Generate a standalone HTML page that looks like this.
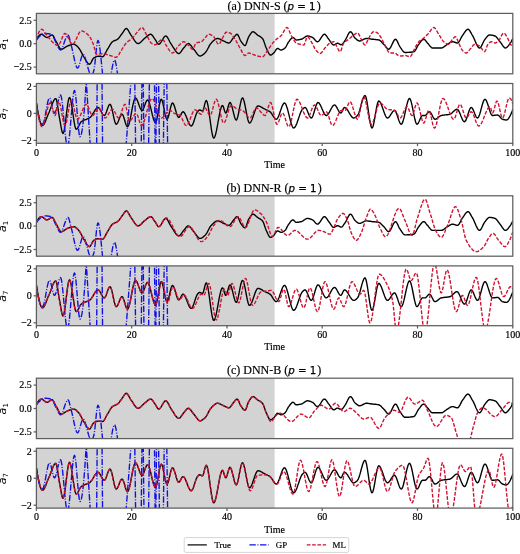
<!DOCTYPE html>
<html lang="en"><head><meta charset="utf-8"><title>DNN predictions</title>
<style>html,body{margin:0;padding:0;background:#fff}body{width:520px;height:554px;overflow:hidden}svg{display:block}</style>
</head><body>
<svg width="520" height="554" viewBox="0 0 520 554">
<rect x="0" y="0" width="520" height="554" fill="#fff"/>
<defs>
<clipPath id="c01"><rect x="36.4" y="13.4" width="476.4" height="60.4"/></clipPath>
<clipPath id="c07"><rect x="36.4" y="83.5" width="476.4" height="59.8"/></clipPath>
<clipPath id="c11"><rect x="36.4" y="195.8" width="476.4" height="60.4"/></clipPath>
<clipPath id="c17"><rect x="36.4" y="265.9" width="476.4" height="59.8"/></clipPath>
<clipPath id="c21"><rect x="36.4" y="378.2" width="476.4" height="60.4"/></clipPath>
<clipPath id="c27"><rect x="36.4" y="448.3" width="476.4" height="59.8"/></clipPath>
<path id="true_a1" d="M36.4 40.0 L36.9 39.0 L37.4 38.1 L37.9 37.3 L38.4 36.5 L38.9 35.8 L39.4 35.3 L39.9 34.8 L40.4 34.5 L40.9 34.3 L41.4 34.3 L41.9 34.4 L42.4 34.6 L42.9 34.9 L43.4 35.3 L43.9 35.7 L44.4 36.1 L44.9 36.5 L45.4 36.9 L45.9 37.2 L46.4 37.4 L46.9 37.5 L47.4 37.5 L47.9 37.3 L48.4 37.0 L48.9 36.7 L49.4 36.3 L49.9 36.0 L50.4 35.6 L50.9 35.3 L51.4 35.1 L51.9 35.0 L52.4 35.1 L52.9 35.5 L53.4 36.2 L53.9 37.1 L54.4 38.1 L54.9 39.2 L55.4 40.2 L55.9 41.2 L56.4 42.0 L56.9 42.9 L57.4 43.8 L57.9 44.8 L58.4 45.8 L58.9 46.7 L59.4 47.6 L59.9 48.3 L60.4 48.9 L60.9 49.2 L61.4 49.2 L61.9 49.2 L62.4 49.0 L62.9 48.8 L63.4 48.5 L63.9 48.2 L64.4 47.9 L64.9 47.5 L65.4 47.2 L65.9 46.9 L66.4 46.5 L66.9 46.3 L67.4 46.0 L67.9 45.9 L68.4 45.7 L68.9 45.5 L69.4 45.3 L69.9 45.1 L70.4 44.9 L70.9 44.8 L71.4 44.6 L71.9 44.5 L72.4 44.4 L72.9 44.3 L73.4 44.3 L73.9 44.3 L74.4 44.3 L74.9 44.5 L75.4 44.8 L75.9 45.2 L76.4 45.6 L76.9 46.1 L77.4 46.6 L77.9 47.1 L78.4 47.6 L78.9 48.2 L79.4 48.8 L79.9 49.6 L80.4 50.5 L80.9 51.4 L81.4 52.4 L81.9 53.4 L82.4 54.4 L82.9 55.3 L83.4 56.2 L83.9 57.0 L84.4 57.8 L84.9 58.6 L85.4 59.5 L85.9 60.4 L86.4 61.2 L86.9 62.0 L87.4 62.7 L87.9 63.3 L88.4 63.8 L88.9 64.1 L89.4 64.2 L89.9 64.1 L90.4 63.6 L90.9 62.8 L91.4 61.9 L91.9 60.9 L92.4 59.9 L92.9 59.0 L93.4 58.3 L93.9 57.9 L94.4 57.6 L94.9 57.4 L95.4 57.1 L95.9 56.9 L96.4 56.7 L96.9 56.5 L97.4 56.4 L97.9 56.3 L98.4 56.3 L98.9 56.3 L99.4 56.3 L99.9 56.4 L100.4 56.5 L100.9 56.6 L101.4 56.6 L101.9 56.7 L102.4 56.7 L102.9 56.7 L103.4 56.3 L103.9 55.7 L104.4 55.0 L104.9 54.1 L105.4 53.2 L105.9 52.2 L106.4 51.2 L106.9 50.2 L107.4 49.4 L107.9 48.6 L108.4 47.8 L108.9 46.9 L109.4 46.1 L109.9 45.2 L110.4 44.4 L110.9 43.6 L111.4 42.9 L111.9 42.3 L112.4 41.8 L112.9 41.5 L113.4 41.2 L113.9 40.9 L114.4 40.7 L114.9 40.5 L115.4 40.3 L115.9 40.1 L116.4 39.9 L116.9 39.6 L117.4 39.3 L117.9 38.9 L118.4 38.4 L118.9 37.9 L119.4 37.3 L119.9 36.6 L120.4 35.9 L120.9 35.2 L121.4 34.5 L121.9 33.8 L122.4 33.1 L122.9 32.5 L123.4 31.7 L123.9 30.9 L124.4 30.1 L124.9 29.4 L125.4 28.9 L125.9 28.6 L126.4 28.5 L126.9 28.7 L127.4 29.2 L127.9 29.8 L128.4 30.6 L128.9 31.5 L129.4 32.4 L129.9 33.3 L130.4 34.2 L130.9 35.0 L131.4 35.7 L131.9 36.4 L132.4 37.1 L132.9 37.9 L133.4 38.7 L133.9 39.5 L134.4 40.3 L134.9 41.0 L135.4 41.6 L135.9 42.2 L136.4 42.7 L136.9 43.1 L137.4 43.4 L137.9 43.5 L138.4 43.5 L138.9 43.3 L139.4 43.1 L139.9 42.8 L140.4 42.4 L140.9 42.0 L141.4 41.5 L141.9 41.0 L142.4 40.4 L142.9 39.9 L143.4 39.4 L143.9 38.9 L144.4 38.5 L144.9 38.1 L145.4 37.7 L145.9 37.3 L146.4 36.9 L146.9 36.4 L147.4 36.0 L147.9 35.6 L148.4 35.2 L148.9 34.9 L149.4 34.6 L149.9 34.4 L150.4 34.3 L150.9 34.3 L151.4 34.5 L151.9 34.9 L152.4 35.4 L152.9 36.1 L153.4 36.9 L153.9 37.7 L154.4 38.4 L154.9 39.1 L155.4 39.8 L155.9 40.6 L156.4 41.5 L156.9 42.4 L157.4 43.2 L157.9 43.8 L158.4 44.2 L158.9 44.2 L159.4 44.0 L159.9 43.7 L160.4 43.1 L160.9 42.4 L161.4 41.6 L161.9 40.7 L162.4 39.9 L162.9 39.0 L163.4 38.2 L163.9 37.4 L164.4 36.8 L164.9 36.3 L165.4 36.1 L165.9 36.0 L166.4 36.2 L166.9 36.7 L167.4 37.3 L167.9 38.1 L168.4 39.0 L168.9 40.0 L169.4 41.0 L169.9 42.0 L170.4 42.9 L170.9 43.7 L171.4 44.5 L171.9 45.2 L172.4 46.0 L172.9 46.8 L173.4 47.6 L173.9 48.4 L174.4 49.2 L174.9 50.0 L175.4 50.7 L175.9 51.4 L176.4 52.0 L176.9 52.6 L177.4 53.0 L177.9 53.3 L178.4 53.5 L178.9 53.5 L179.4 53.3 L179.9 53.0 L180.4 52.5 L180.9 51.9 L181.4 51.2 L181.9 50.5 L182.4 49.7 L182.9 49.0 L183.4 48.4 L183.9 47.8 L184.4 47.2 L184.9 46.6 L185.4 45.9 L185.9 45.3 L186.4 44.7 L186.9 44.2 L187.4 43.8 L187.9 43.6 L188.4 43.5 L188.9 43.7 L189.4 43.9 L189.9 44.4 L190.4 44.9 L190.9 45.5 L191.4 46.2 L191.9 46.9 L192.4 47.6 L192.9 48.2 L193.4 48.9 L193.9 49.4 L194.4 50.0 L194.9 50.7 L195.4 51.4 L195.9 52.1 L196.4 52.8 L196.9 53.5 L197.4 54.1 L197.9 54.7 L198.4 55.2 L198.9 55.6 L199.4 55.9 L199.9 56.0 L200.4 56.0 L200.9 55.9 L201.4 55.7 L201.9 55.4 L202.4 55.1 L202.9 54.7 L203.4 54.4 L203.9 53.9 L204.4 53.5 L204.9 53.1 L205.4 52.6 L205.9 52.0 L206.4 51.2 L206.9 50.4 L207.4 49.5 L207.9 48.5 L208.4 47.6 L208.9 46.6 L209.4 45.7 L209.9 44.8 L210.4 44.0 L210.9 43.4 L211.4 42.9 L211.9 42.3 L212.4 41.8 L212.9 41.3 L213.4 40.8 L213.9 40.4 L214.4 40.0 L214.9 39.6 L215.4 39.2 L215.9 38.9 L216.4 38.7 L216.9 38.6 L217.4 38.5 L217.9 38.5 L218.4 38.6 L218.9 38.7 L219.4 38.9 L219.9 39.1 L220.4 39.3 L220.9 39.6 L221.4 39.8 L221.9 40.1 L222.4 40.4 L222.9 40.6 L223.4 40.9 L223.9 41.1 L224.4 41.3 L224.9 41.5 L225.4 41.8 L225.9 42.1 L226.4 42.3 L226.9 42.6 L227.4 42.7 L227.9 42.9 L228.4 43.0 L228.9 43.0 L229.4 42.8 L229.9 42.5 L230.4 42.0 L230.9 41.4 L231.4 40.7 L231.9 40.0 L232.4 39.2 L232.9 38.5 L233.4 37.9 L233.9 37.3 L234.4 36.7 L234.9 36.1 L235.4 35.4 L235.9 34.9 L236.4 34.4 L236.9 34.3 L237.4 34.4 L237.9 34.9 L238.4 35.8 L238.9 36.8 L239.4 38.0 L239.9 39.2 L240.4 40.3 L240.9 41.2 L241.4 41.9 L241.9 42.6 L242.4 43.3 L242.9 43.9 L243.4 44.5 L243.9 45.0 L244.4 45.3 L244.9 45.5 L245.4 45.3 L245.9 44.5 L246.4 43.3 L246.9 41.8 L247.4 40.2 L247.9 38.7 L248.4 37.4 L248.9 36.5 L249.4 35.7 L249.9 34.9 L250.4 34.1 L250.9 33.4 L251.4 32.8 L251.9 32.2 L252.4 31.9 L252.9 31.8 L253.4 31.8 L253.9 32.0 L254.4 32.3 L254.9 32.7 L255.4 33.1 L255.9 33.6 L256.4 34.1 L256.9 34.5 L257.4 34.9 L257.9 35.3 L258.4 35.6 L258.9 35.9 L259.4 36.1 L259.9 36.4 L260.4 36.7 L260.9 37.1 L261.4 37.4 L261.9 37.9 L262.4 38.4 L262.9 39.1 L263.4 40.1 L263.9 41.4 L264.4 42.9 L264.9 44.4 L265.4 45.9 L265.9 47.2 L266.4 48.3 L266.9 49.4 L267.4 50.5 L267.9 51.6 L268.4 52.6 L268.9 53.5 L269.4 54.3 L269.9 54.8 L270.4 55.0 L270.9 55.0 L271.4 54.8 L271.9 54.5 L272.4 54.1 L272.9 53.7 L273.4 53.3 L273.9 52.9 L274.4 52.3 L274.9 51.5 L275.4 50.7 L275.9 49.9 L276.4 49.3 L276.9 48.7 L277.4 48.5 L277.9 48.5 L278.4 48.7 L278.9 49.0 L279.4 49.3 L279.9 49.6 L280.4 49.8 L280.9 50.0 L281.4 50.0 L281.9 49.9 L282.4 49.7 L282.9 49.5 L283.4 49.2 L283.9 48.9 L284.4 48.5 L284.9 48.1 L285.4 47.6 L285.9 46.9 L286.4 46.0 L286.9 45.0 L287.4 44.0 L287.9 43.1 L288.4 42.2 L288.9 41.6 L289.4 40.9 L289.9 40.2 L290.4 39.5 L290.9 38.9 L291.4 38.4 L291.9 37.9 L292.4 37.6 L292.9 37.5 L293.4 37.6 L293.9 38.0 L294.4 38.5 L294.9 39.1 L295.4 39.6 L295.9 39.9 L296.4 40.0 L296.9 40.0 L297.4 39.9 L297.9 39.9 L298.4 39.8 L298.9 39.7 L299.4 39.6 L299.9 39.5 L300.4 39.4 L300.9 39.3 L301.4 39.2 L301.9 39.0 L302.4 38.8 L302.9 38.5 L303.4 38.1 L303.9 37.8 L304.4 37.4 L304.9 37.1 L305.4 36.7 L305.9 36.5 L306.4 36.2 L306.9 36.1 L307.4 36.0 L307.9 36.0 L308.4 36.1 L308.9 36.2 L309.4 36.3 L309.9 36.4 L310.4 36.6 L310.9 36.8 L311.4 37.0 L311.9 37.2 L312.4 37.5 L312.9 37.7 L313.4 38.1 L313.9 38.6 L314.4 39.2 L314.9 39.8 L315.4 40.4 L315.9 40.9 L316.4 41.3 L316.9 41.6 L317.4 41.7 L317.9 41.7 L318.4 41.4 L318.9 41.0 L319.4 40.4 L319.9 39.7 L320.4 39.0 L320.9 38.2 L321.4 37.4 L321.9 36.6 L322.4 35.9 L322.9 35.2 L323.4 34.7 L323.9 34.4 L324.4 34.3 L324.9 34.3 L325.4 34.7 L325.9 35.2 L326.4 35.8 L326.9 36.5 L327.4 37.3 L327.9 38.1 L328.4 38.8 L328.9 39.4 L329.4 40.1 L329.9 40.8 L330.4 41.6 L330.9 42.3 L331.4 43.1 L331.9 43.7 L332.4 44.3 L332.9 44.7 L333.4 44.9 L333.9 45.0 L334.4 44.9 L334.9 44.6 L335.4 44.3 L335.9 43.9 L336.4 43.6 L336.9 43.4 L337.4 43.3 L337.9 43.3 L338.4 43.5 L338.9 43.7 L339.4 44.0 L339.9 44.3 L340.4 44.6 L340.9 44.7 L341.4 44.7 L341.9 44.5 L342.4 44.1 L342.9 43.5 L343.4 42.8 L343.9 42.1 L344.4 41.3 L344.9 40.6 L345.4 39.9 L345.9 39.0 L346.4 38.1 L346.9 37.0 L347.4 36.0 L347.9 34.9 L348.4 34.0 L348.9 33.1 L349.4 32.4 L349.9 32.0 L350.4 31.8 L350.9 31.9 L351.4 32.3 L351.9 32.9 L352.4 33.7 L352.9 34.6 L353.4 35.6 L353.9 36.5 L354.4 37.3 L354.9 37.9 L355.4 38.4 L355.9 38.8 L356.4 39.3 L356.9 39.7 L357.4 40.1 L357.9 40.5 L358.4 40.7 L358.9 40.9 L359.4 41.0 L359.9 41.0 L360.4 40.9 L360.9 40.7 L361.4 40.5 L361.9 40.3 L362.4 40.0 L362.9 39.7 L363.4 39.5 L363.9 39.2 L364.4 39.0 L364.9 38.8 L365.4 38.6 L365.9 38.5 L366.4 38.5 L366.9 38.5 L367.4 38.5 L367.9 38.6 L368.4 38.6 L368.9 38.7 L369.4 38.8 L369.9 38.9 L370.4 38.9 L370.9 39.0 L371.4 39.1 L371.9 39.2 L372.4 39.2 L372.9 39.3 L373.4 39.3 L373.9 39.4 L374.4 39.4 L374.9 39.5 L375.4 39.5 L375.9 39.6 L376.4 39.6 L376.9 39.7 L377.4 39.8 L377.9 39.8 L378.4 39.9 L378.9 40.0 L379.4 40.2 L379.9 40.5 L380.4 40.9 L380.9 41.3 L381.4 41.8 L381.9 42.4 L382.4 42.9 L382.9 43.4 L383.4 43.9 L383.9 44.4 L384.4 44.9 L384.9 45.5 L385.4 46.2 L385.9 46.9 L386.4 47.5 L386.9 48.1 L387.4 48.6 L387.9 49.0 L388.4 49.2 L388.9 49.2 L389.4 49.0 L389.9 48.5 L390.4 47.7 L390.9 46.9 L391.4 45.8 L391.9 44.7 L392.4 43.6 L392.9 42.6 L393.4 41.6 L393.9 40.7 L394.4 40.0 L394.9 39.5 L395.4 39.3 L395.9 39.4 L396.4 39.8 L396.9 40.6 L397.4 41.5 L397.9 42.6 L398.4 43.7 L398.9 44.8 L399.4 45.8 L399.9 46.6 L400.4 47.3 L400.9 48.1 L401.4 48.8 L401.9 49.6 L402.4 50.3 L402.9 51.0 L403.4 51.6 L403.9 52.0 L404.4 52.4 L404.9 52.5 L405.4 52.5 L405.9 52.5 L406.4 52.5 L406.9 52.5 L407.4 52.4 L407.9 52.4 L408.4 52.4 L408.9 52.4 L409.4 52.3 L409.9 52.3 L410.4 52.2 L410.9 52.2 L411.4 52.1 L411.9 52.0 L412.4 52.0 L412.9 51.9 L413.4 51.8 L413.9 51.7 L414.4 51.4 L414.9 50.9 L415.4 50.1 L415.9 49.3 L416.4 48.4 L416.9 47.4 L417.4 46.4 L417.9 45.5 L418.4 44.7 L418.9 44.1 L419.4 43.4 L419.9 42.8 L420.4 42.1 L420.9 41.4 L421.4 40.8 L421.9 40.3 L422.4 39.8 L422.9 39.5 L423.4 39.3 L423.9 39.3 L424.4 39.5 L424.9 39.8 L425.4 40.4 L425.9 41.0 L426.4 41.7 L426.9 42.3 L427.4 42.9 L427.9 43.4 L428.4 44.0 L428.9 44.7 L429.4 45.3 L429.9 46.0 L430.4 46.6 L430.9 47.1 L431.4 47.6 L431.9 47.9 L432.4 48.0 L432.9 48.0 L433.4 48.0 L433.9 48.0 L434.4 48.0 L434.9 48.0 L435.4 48.0 L435.9 48.0 L436.4 48.0 L436.9 48.0 L437.4 48.0 L437.9 48.0 L438.4 48.0 L438.9 48.0 L439.4 48.0 L439.9 48.0 L440.4 48.0 L440.9 48.0 L441.4 48.0 L441.9 47.9 L442.4 47.8 L442.9 47.5 L443.4 47.2 L443.9 46.9 L444.4 46.5 L444.9 46.1 L445.4 45.7 L445.9 45.3 L446.4 45.0 L446.9 44.6 L447.4 44.3 L447.9 44.0 L448.4 43.7 L448.9 43.4 L449.4 43.0 L449.9 42.7 L450.4 42.4 L450.9 42.2 L451.4 42.0 L451.9 41.8 L452.4 41.8 L452.9 41.8 L453.4 41.9 L453.9 42.0 L454.4 42.2 L454.9 42.3 L455.4 42.5 L455.9 42.7 L456.4 42.8 L456.9 43.0 L457.4 43.0 L457.9 42.9 L458.4 42.5 L458.9 41.9 L459.4 41.2 L459.9 40.3 L460.4 39.3 L460.9 38.3 L461.4 37.3 L461.9 36.4 L462.4 35.6 L462.9 35.0 L463.4 34.2 L463.9 33.5 L464.4 32.7 L464.9 32.0 L465.4 31.3 L465.9 30.6 L466.4 30.1 L466.9 29.7 L467.4 29.4 L467.9 29.3 L468.4 29.3 L468.9 29.7 L469.4 30.2 L469.9 30.9 L470.4 31.8 L470.9 32.7 L471.4 33.6 L471.9 34.5 L472.4 35.3 L472.9 36.2 L473.4 37.1 L473.9 38.2 L474.4 39.3 L474.9 40.5 L475.4 41.7 L475.9 42.9 L476.4 44.0 L476.9 45.0 L477.4 46.0 L477.9 46.8 L478.4 47.4 L478.9 47.8 L479.4 48.0 L479.9 47.9 L480.4 47.5 L480.9 46.9 L481.4 46.1 L481.9 45.1 L482.4 44.1 L482.9 43.0 L483.4 42.0 L483.9 41.0 L484.4 40.1 L484.9 39.4 L485.4 38.8 L485.9 38.1 L486.4 37.5 L486.9 36.9 L487.4 36.3 L487.9 35.8 L488.4 35.4 L488.9 35.1 L489.4 35.0 L489.9 35.0 L490.4 35.0 L490.9 35.1 L491.4 35.1 L491.9 35.2 L492.4 35.3 L492.9 35.4 L493.4 35.5 L493.9 35.7 L494.4 35.8 L494.9 36.0 L495.4 36.2 L495.9 36.5 L496.4 37.0 L496.9 37.6 L497.4 38.2 L497.9 38.9 L498.4 39.6 L498.9 40.3 L499.4 41.0 L499.9 41.6 L500.4 42.2 L500.9 42.9 L501.4 43.6 L501.9 44.4 L502.4 45.2 L502.9 45.9 L503.4 46.5 L503.9 47.1 L504.4 47.6 L504.9 47.9 L505.4 48.0 L505.9 47.9 L506.4 47.7 L506.9 47.3 L507.4 46.8 L507.9 46.3 L508.4 45.7 L508.9 45.0 L509.4 44.4 L509.9 43.7 L510.4 43.0 L510.9 42.2 L511.4 41.3 L511.9 40.3 L512.4 39.3 L512.8 38.5"/>
<path id="true_a7" d="M36.4 103.0 L36.9 106.2 L37.4 109.2 L37.9 112.0 L38.4 114.5 L38.9 116.9 L39.4 119.0 L39.9 120.9 L40.4 122.4 L40.9 123.7 L41.4 124.6 L41.9 125.2 L42.4 125.5 L42.9 125.4 L43.4 125.0 L43.9 124.4 L44.4 123.6 L44.9 122.5 L45.4 121.4 L45.9 120.1 L46.4 118.8 L46.9 117.5 L47.4 116.2 L47.9 114.9 L48.4 113.7 L48.9 112.7 L49.4 111.6 L49.9 110.3 L50.4 109.0 L50.9 107.6 L51.4 106.3 L51.9 104.9 L52.4 103.6 L52.9 102.4 L53.4 101.2 L53.9 100.3 L54.4 99.5 L54.9 98.9 L55.4 98.6 L55.9 98.6 L56.4 99.6 L56.9 101.7 L57.4 104.6 L57.9 107.9 L58.4 111.3 L58.9 114.6 L59.4 117.5 L59.9 120.1 L60.4 122.9 L60.9 125.9 L61.4 128.6 L61.9 131.0 L62.4 132.7 L62.9 133.5 L63.4 133.1 L63.9 131.6 L64.4 129.2 L64.9 126.1 L65.4 122.4 L65.9 118.4 L66.4 114.3 L66.9 110.2 L67.4 106.3 L67.9 103.0 L68.4 100.2 L68.9 98.4 L69.4 97.5 L69.9 97.8 L70.4 99.0 L70.9 101.0 L71.4 103.6 L71.9 106.7 L72.4 110.0 L72.9 113.6 L73.4 117.0 L73.9 120.4 L74.4 123.4 L74.9 125.9 L75.4 127.9 L75.9 129.0 L76.4 129.2 L76.9 129.0 L77.4 128.4 L77.9 127.6 L78.4 126.7 L78.9 125.7 L79.4 124.6 L79.9 123.6 L80.4 122.8 L80.9 122.1 L81.4 121.6 L81.9 121.3 L82.4 121.0 L82.9 120.7 L83.4 120.4 L83.9 120.2 L84.4 120.0 L84.9 119.8 L85.4 119.6 L85.9 119.5 L86.4 119.3 L86.9 119.1 L87.4 118.9 L87.9 118.7 L88.4 118.4 L88.9 118.2 L89.4 117.9 L89.9 117.6 L90.4 117.2 L90.9 116.6 L91.4 116.0 L91.9 115.3 L92.4 114.5 L92.9 113.7 L93.4 112.8 L93.9 112.0 L94.4 111.1 L94.9 110.3 L95.4 109.6 L95.9 108.9 L96.4 108.4 L96.9 107.9 L97.4 107.6 L97.9 107.5 L98.4 107.6 L98.9 107.9 L99.4 108.5 L99.9 109.3 L100.4 110.1 L100.9 111.1 L101.4 112.0 L101.9 113.0 L102.4 113.8 L102.9 114.5 L103.4 115.1 L103.9 115.4 L104.4 115.5 L104.9 115.1 L105.4 114.3 L105.9 113.3 L106.4 112.0 L106.9 110.5 L107.4 109.1 L107.9 107.7 L108.4 106.4 L108.9 105.3 L109.4 104.6 L109.9 104.3 L110.4 104.5 L110.9 105.4 L111.4 106.8 L111.9 108.7 L112.4 110.8 L112.9 113.2 L113.4 115.6 L113.9 117.9 L114.4 120.0 L114.9 121.9 L115.4 123.2 L115.9 124.1 L116.4 124.2 L116.9 123.9 L117.4 123.2 L117.9 122.3 L118.4 121.1 L118.9 119.8 L119.4 118.5 L119.9 117.3 L120.4 116.1 L120.9 115.2 L121.4 114.6 L121.9 114.3 L122.4 114.4 L122.9 115.1 L123.4 116.3 L123.9 117.7 L124.4 119.3 L124.9 121.0 L125.4 122.7 L125.9 124.2 L126.4 125.5 L126.9 126.3 L127.4 126.7 L127.9 126.5 L128.4 125.7 L128.9 124.4 L129.4 122.7 L129.9 120.5 L130.4 118.2 L130.9 115.6 L131.4 112.9 L131.9 110.2 L132.4 107.6 L132.9 105.1 L133.4 102.9 L133.9 101.0 L134.4 99.5 L134.9 98.5 L135.4 98.0 L135.9 98.1 L136.4 98.7 L136.9 99.5 L137.4 100.6 L137.9 101.9 L138.4 103.2 L138.9 104.7 L139.4 106.1 L139.9 107.4 L140.4 108.6 L140.9 109.5 L141.4 110.2 L141.9 110.5 L142.4 110.3 L142.9 109.7 L143.4 108.8 L143.9 107.6 L144.4 106.2 L144.9 104.8 L145.4 103.4 L145.9 102.1 L146.4 101.1 L146.9 100.3 L147.4 100.0 L147.9 100.2 L148.4 100.8 L148.9 101.8 L149.4 103.2 L149.9 104.9 L150.4 106.7 L150.9 108.7 L151.4 110.8 L151.9 112.9 L152.4 115.0 L152.9 116.9 L153.4 118.7 L153.9 120.2 L154.4 121.3 L154.9 122.1 L155.4 122.5 L155.9 122.2 L156.4 121.0 L156.9 119.0 L157.4 116.6 L157.9 113.7 L158.4 110.7 L158.9 107.7 L159.4 104.9 L159.9 102.5 L160.4 100.6 L160.9 99.5 L161.4 99.3 L161.9 100.0 L162.4 101.3 L162.9 103.2 L163.4 105.5 L163.9 108.1 L164.4 110.7 L164.9 113.2 L165.4 115.5 L165.9 117.3 L166.4 118.6 L166.9 119.2 L167.4 119.0 L167.9 118.1 L168.4 116.6 L168.9 114.8 L169.4 112.7 L169.9 110.5 L170.4 108.3 L170.9 106.3 L171.4 104.7 L171.9 103.5 L172.4 103.0 L172.9 103.2 L173.4 103.8 L173.9 104.9 L174.4 106.2 L174.9 107.8 L175.4 109.5 L175.9 111.2 L176.4 112.9 L176.9 114.4 L177.4 115.8 L177.9 116.8 L178.4 117.4 L178.9 117.5 L179.4 117.1 L179.9 116.5 L180.4 115.6 L180.9 114.6 L181.4 113.6 L181.9 112.7 L182.4 112.1 L182.9 111.8 L183.4 111.8 L183.9 112.2 L184.4 112.8 L184.9 113.7 L185.4 114.7 L185.9 115.8 L186.4 117.0 L186.9 118.3 L187.4 119.6 L187.9 120.9 L188.4 122.1 L188.9 123.2 L189.4 124.2 L189.9 125.0 L190.4 125.6 L190.9 125.9 L191.4 126.0 L191.9 125.6 L192.4 124.9 L192.9 123.9 L193.4 122.7 L193.9 121.2 L194.4 119.7 L194.9 118.1 L195.4 116.6 L195.9 115.1 L196.4 113.8 L196.9 112.7 L197.4 111.9 L197.9 111.3 L198.4 110.7 L198.9 110.2 L199.4 110.0 L199.9 110.0 L200.4 110.2 L200.9 110.5 L201.4 110.7 L201.9 110.9 L202.4 111.0 L202.9 110.7 L203.4 109.5 L203.9 107.7 L204.4 105.6 L204.9 103.6 L205.4 101.9 L205.9 100.8 L206.4 100.5 L206.9 101.3 L207.4 102.9 L207.9 105.1 L208.4 108.0 L208.9 111.2 L209.4 114.8 L209.9 118.5 L210.4 122.2 L210.9 125.9 L211.4 129.3 L211.9 132.3 L212.4 134.8 L212.9 136.7 L213.4 137.8 L213.9 138.0 L214.4 137.5 L214.9 136.5 L215.4 135.0 L215.9 133.1 L216.4 130.9 L216.9 128.4 L217.4 125.8 L217.9 123.0 L218.4 120.2 L218.9 117.5 L219.4 114.8 L219.9 112.4 L220.4 110.2 L220.9 108.4 L221.4 106.9 L221.9 105.9 L222.4 105.5 L222.9 105.8 L223.4 106.9 L223.9 108.5 L224.4 110.2 L224.9 111.7 L225.4 112.8 L225.9 113.0 L226.4 112.3 L226.9 111.1 L227.4 109.5 L227.9 107.7 L228.4 105.8 L228.9 104.2 L229.4 103.1 L229.9 102.5 L230.4 102.7 L230.9 103.5 L231.4 104.7 L231.9 106.4 L232.4 108.3 L232.9 110.3 L233.4 112.4 L233.9 114.4 L234.4 116.3 L234.9 117.9 L235.4 119.1 L235.9 119.8 L236.4 120.0 L236.9 119.3 L237.4 118.0 L237.9 116.2 L238.4 114.0 L238.9 111.5 L239.4 108.9 L239.9 106.3 L240.4 103.8 L240.9 101.6 L241.4 99.8 L241.9 98.6 L242.4 98.0 L242.9 98.2 L243.4 99.1 L243.9 100.6 L244.4 102.5 L244.9 104.8 L245.4 107.3 L245.9 110.0 L246.4 112.6 L246.9 115.2 L247.4 117.6 L247.9 119.7 L248.4 121.3 L248.9 122.5 L249.4 123.0 L249.9 122.9 L250.4 122.5 L250.9 121.8 L251.4 120.8 L251.9 119.7 L252.4 118.4 L252.9 117.0 L253.4 115.5 L253.9 114.1 L254.4 112.6 L254.9 111.1 L255.4 109.8 L255.9 108.6 L256.4 107.6 L256.9 106.8 L257.4 106.2 L257.9 106.0 L258.4 106.0 L258.9 106.1 L259.4 106.2 L259.9 106.4 L260.4 106.6 L260.9 106.9 L261.4 107.1 L261.9 107.4 L262.4 107.7 L262.9 108.1 L263.4 108.4 L263.9 108.7 L264.4 108.9 L264.9 109.2 L265.4 109.4 L265.9 109.7 L266.4 109.9 L266.9 110.1 L267.4 110.3 L267.9 110.6 L268.4 110.8 L268.9 111.1 L269.4 111.4 L269.9 111.7 L270.4 112.1 L270.9 112.6 L271.4 113.3 L271.9 114.0 L272.4 114.9 L272.9 115.7 L273.4 116.5 L273.9 117.2 L274.4 117.9 L274.9 118.5 L275.4 118.9 L275.9 119.2 L276.4 119.2 L276.9 119.0 L277.4 118.4 L277.9 117.6 L278.4 116.5 L278.9 115.3 L279.4 114.0 L279.9 112.5 L280.4 111.1 L280.9 109.6 L281.4 108.2 L281.9 106.8 L282.4 105.6 L282.9 104.6 L283.4 103.8 L283.9 103.2 L284.4 103.0 L284.9 103.1 L285.4 103.7 L285.9 104.5 L286.4 105.7 L286.9 107.2 L287.4 108.8 L287.9 110.6 L288.4 112.6 L288.9 114.6 L289.4 116.6 L289.9 118.6 L290.4 120.5 L290.9 122.3 L291.4 124.0 L291.9 125.4 L292.4 126.6 L292.9 127.4 L293.4 127.9 L293.9 128.0 L294.4 127.7 L294.9 127.2 L295.4 126.5 L295.9 125.5 L296.4 124.4 L296.9 123.2 L297.4 121.8 L297.9 120.3 L298.4 118.9 L298.9 117.4 L299.4 115.9 L299.9 114.5 L300.4 113.1 L300.9 111.9 L301.4 110.9 L301.9 110.0 L302.4 109.4 L302.9 108.9 L303.4 108.4 L303.9 108.0 L304.4 107.6 L304.9 107.5 L305.4 107.6 L305.9 108.1 L306.4 108.8 L306.9 109.8 L307.4 111.0 L307.9 112.2 L308.4 113.4 L308.9 114.7 L309.4 115.8 L309.9 116.7 L310.4 117.5 L310.9 117.9 L311.4 118.0 L311.9 117.6 L312.4 116.8 L312.9 115.7 L313.4 114.3 L313.9 112.7 L314.4 111.0 L314.9 109.3 L315.4 107.6 L315.9 106.1 L316.4 104.7 L316.9 103.6 L317.4 102.8 L317.9 102.5 L318.4 102.6 L318.9 102.9 L319.4 103.5 L319.9 104.3 L320.4 105.2 L320.9 106.2 L321.4 107.3 L321.9 108.5 L322.4 109.6 L322.9 110.8 L323.4 111.9 L323.9 112.9 L324.4 113.8 L324.9 114.6 L325.4 115.1 L325.9 115.4 L326.4 115.5 L326.9 115.3 L327.4 114.9 L327.9 114.4 L328.4 113.7 L328.9 112.9 L329.4 112.1 L329.9 111.2 L330.4 110.2 L330.9 109.3 L331.4 108.3 L331.9 107.5 L332.4 106.7 L332.9 106.0 L333.4 105.5 L333.9 105.2 L334.4 105.0 L334.9 105.1 L335.4 105.4 L335.9 106.0 L336.4 106.8 L336.9 107.6 L337.4 108.6 L337.9 109.5 L338.4 110.5 L338.9 111.3 L339.4 112.0 L339.9 112.6 L340.4 112.9 L340.9 113.0 L341.4 112.6 L341.9 111.8 L342.4 110.7 L342.9 109.6 L343.4 108.6 L343.9 107.9 L344.4 107.5 L344.9 107.6 L345.4 107.8 L345.9 108.1 L346.4 108.6 L346.9 109.3 L347.4 109.9 L347.9 110.7 L348.4 111.5 L348.9 112.4 L349.4 113.2 L349.9 114.1 L350.4 114.9 L350.9 115.6 L351.4 116.3 L351.9 116.9 L352.4 117.4 L352.9 117.8 L353.4 118.0 L353.9 118.0 L354.4 117.9 L354.9 117.7 L355.4 117.4 L355.9 117.0 L356.4 116.6 L356.9 116.1 L357.4 115.6 L357.9 115.0 L358.4 114.0 L358.9 112.7 L359.4 111.2 L359.9 109.6 L360.4 107.8 L360.9 105.9 L361.4 104.0 L361.9 102.2 L362.4 100.5 L362.9 98.9 L363.4 97.6 L363.9 96.5 L364.4 95.8 L364.9 95.5 L365.4 95.8 L365.9 97.0 L366.4 98.9 L366.9 101.4 L367.4 104.3 L367.9 107.6 L368.4 111.1 L368.9 114.5 L369.4 117.9 L369.9 121.0 L370.4 123.7 L370.9 125.8 L371.4 127.3 L371.9 128.0 L372.4 127.7 L372.9 126.7 L373.4 125.0 L373.9 122.8 L374.4 120.2 L374.9 117.3 L375.4 114.4 L375.9 111.4 L376.4 108.5 L376.9 106.0 L377.4 103.8 L377.9 102.2 L378.4 101.2 L378.9 101.0 L379.4 101.3 L379.9 101.8 L380.4 102.6 L380.9 103.6 L381.4 104.7 L381.9 106.0 L382.4 107.4 L382.9 108.8 L383.4 110.3 L383.9 111.7 L384.4 113.1 L384.9 114.4 L385.4 115.5 L385.9 116.5 L386.4 117.3 L386.9 117.8 L387.4 118.0 L387.9 117.9 L388.4 117.7 L388.9 117.2 L389.4 116.6 L389.9 116.0 L390.4 115.2 L390.9 114.4 L391.4 113.6 L391.9 112.8 L392.4 112.1 L392.9 111.5 L393.4 111.0 L393.9 110.7 L394.4 110.5 L394.9 110.6 L395.4 111.2 L395.9 112.0 L396.4 113.2 L396.9 114.5 L397.4 115.9 L397.9 117.5 L398.4 119.0 L398.9 120.4 L399.4 121.7 L399.9 122.8 L400.4 123.7 L400.9 124.1 L401.4 124.2 L401.9 123.8 L402.4 122.9 L402.9 121.6 L403.4 119.9 L403.9 118.0 L404.4 115.9 L404.9 113.6 L405.4 111.3 L405.9 108.9 L406.4 106.7 L406.9 104.6 L407.4 102.7 L407.9 101.0 L408.4 99.8 L408.9 98.9 L409.4 98.5 L409.9 98.7 L410.4 99.5 L410.9 100.9 L411.4 102.6 L411.9 104.7 L412.4 107.1 L412.9 109.6 L413.4 112.1 L413.9 114.7 L414.4 117.1 L414.9 119.3 L415.4 121.2 L415.9 122.8 L416.4 123.8 L416.9 124.2 L417.4 124.1 L417.9 123.6 L418.4 122.8 L418.9 121.8 L419.4 120.7 L419.9 119.5 L420.4 118.4 L420.9 117.3 L421.4 116.4 L421.9 115.8 L422.4 115.5 L422.9 115.5 L423.4 115.5 L423.9 115.5 L424.4 115.5 L424.9 115.5 L425.4 115.4 L425.9 115.1 L426.4 114.6 L426.9 114.1 L427.4 113.4 L427.9 112.8 L428.4 112.3 L428.9 111.9 L429.4 111.8 L429.9 111.9 L430.4 112.3 L430.9 113.0 L431.4 113.8 L431.9 114.8 L432.4 115.8 L432.9 116.8 L433.4 117.7 L433.9 118.5 L434.4 119.0 L434.9 119.2 L435.4 119.2 L435.9 119.1 L436.4 118.8 L436.9 118.5 L437.4 118.2 L437.9 117.7 L438.4 117.3 L438.9 116.9 L439.4 116.5 L439.9 116.1 L440.4 115.8 L440.9 115.6 L441.4 115.5 L441.9 115.4 L442.4 115.3 L442.9 115.2 L443.4 115.1 L443.9 115.1 L444.4 115.0 L444.9 114.9 L445.4 114.9 L445.9 114.9 L446.4 114.8 L446.9 114.8 L447.4 114.7 L447.9 114.6 L448.4 114.6 L448.9 114.5 L449.4 114.4 L449.9 114.3 L450.4 114.1 L450.9 113.9 L451.4 113.5 L451.9 113.1 L452.4 112.6 L452.9 112.1 L453.4 111.6 L453.9 111.1 L454.4 110.7 L454.9 110.2 L455.4 109.8 L455.9 109.5 L456.4 109.3 L456.9 109.3 L457.4 109.4 L457.9 109.7 L458.4 110.4 L458.9 111.3 L459.4 112.3 L459.9 113.4 L460.4 114.6 L460.9 115.9 L461.4 117.1 L461.9 118.3 L462.4 119.4 L462.9 120.3 L463.4 121.0 L463.9 121.5 L464.4 121.7 L464.9 121.6 L465.4 121.1 L465.9 120.2 L466.4 119.0 L466.9 117.6 L467.4 116.1 L467.9 114.5 L468.4 113.0 L468.9 111.5 L469.4 110.1 L469.9 109.0 L470.4 108.1 L470.9 107.6 L471.4 107.5 L471.9 107.8 L472.4 108.4 L472.9 109.3 L473.4 110.4 L473.9 111.6 L474.4 112.8 L474.9 114.1 L475.4 115.2 L475.9 116.3 L476.4 117.1 L476.9 117.7 L477.4 118.0 L477.9 117.8 L478.4 117.3 L478.9 116.3 L479.4 115.0 L479.9 113.5 L480.4 111.8 L480.9 109.9 L481.4 108.1 L481.9 106.2 L482.4 104.4 L482.9 102.8 L483.4 101.4 L483.9 100.3 L484.4 99.6 L484.9 99.3 L485.4 99.4 L485.9 99.9 L486.4 100.7 L486.9 101.9 L487.4 103.2 L487.9 104.7 L488.4 106.2 L488.9 107.9 L489.4 109.5 L489.9 111.0 L490.4 112.4 L490.9 113.6 L491.4 114.6 L491.9 115.2 L492.4 115.5 L492.9 115.5 L493.4 115.5 L493.9 115.4 L494.4 115.3 L494.9 115.3 L495.4 115.2 L495.9 115.1 L496.4 115.1 L496.9 115.0 L497.4 115.0 L497.9 115.1 L498.4 115.3 L498.9 115.7 L499.4 116.2 L499.9 116.8 L500.4 117.4 L500.9 118.0 L501.4 118.5 L501.9 118.9 L502.4 119.2 L502.9 119.4 L503.4 119.5 L503.9 119.7 L504.4 119.8 L504.9 119.9 L505.4 119.9 L505.9 120.0 L506.4 120.0 L506.9 119.9 L507.4 119.6 L507.9 119.2 L508.4 118.6 L508.9 117.9 L509.4 117.1 L509.9 116.2 L510.4 115.2 L510.9 114.1 L511.4 112.9 L511.9 111.7 L512.4 110.4 L512.8 109.2"/>
<path id="gp_a1" d="M36.4 40.0 L36.9 39.4 L37.4 38.8 L37.9 38.2 L38.4 37.6 L38.9 37.1 L39.4 36.6 L39.9 36.1 L40.4 35.6 L40.9 35.2 L41.4 34.9 L41.9 34.5 L42.4 34.2 L42.9 34.0 L43.4 33.8 L43.9 33.6 L44.4 33.5 L44.9 33.5 L45.4 33.5 L45.9 33.5 L46.4 33.5 L46.9 33.6 L47.4 33.6 L47.9 33.7 L48.4 33.7 L48.9 33.8 L49.4 33.9 L49.9 34.0 L50.4 34.1 L50.9 34.2 L51.4 34.3 L51.9 34.6 L52.4 35.2 L52.9 36.0 L53.4 37.0 L53.9 38.0 L54.4 39.1 L54.9 40.3 L55.4 41.4 L55.9 42.4 L56.4 43.3 L56.9 44.2 L57.4 45.3 L57.9 46.4 L58.4 47.5 L58.9 48.4 L59.4 49.2 L59.9 49.7 L60.4 50.0 L60.9 49.9 L61.4 49.4 L61.9 48.6 L62.4 47.6 L62.9 46.4 L63.4 45.0 L63.9 43.5 L64.4 42.1 L64.9 40.6 L65.4 39.2 L65.9 37.9 L66.4 36.8 L66.9 35.9 L67.4 35.3 L67.9 35.0 L68.4 35.3 L68.9 36.4 L69.4 38.0 L69.9 40.0 L70.4 42.2 L70.9 44.2 L71.4 46.0 L71.9 47.9 L72.4 50.1 L72.9 52.4 L73.4 54.8 L73.9 57.2 L74.4 59.5 L74.9 61.7 L75.4 63.7 L75.9 65.4 L76.4 66.7 L76.9 67.6 L77.4 68.0 L77.9 67.8 L78.4 67.1 L78.9 66.0 L79.4 64.5 L79.9 62.8 L80.4 61.0 L80.9 59.3 L81.4 57.6 L81.9 56.2 L82.4 55.1 L82.9 54.4 L83.4 54.3 L83.9 54.8 L84.4 55.8 L84.9 57.1 L85.4 58.7 L85.9 60.5 L86.4 62.3 L86.9 63.9 L87.4 65.6 L87.9 67.5 L88.4 69.4 L88.9 71.1 L89.4 72.3 L89.9 73.4 L90.4 74.4 L90.9 75.1 L91.4 75.5 L91.9 75.3 L92.4 74.6 L92.9 73.4 L93.4 72.0 L93.9 70.5 L94.4 67.7 L94.9 63.7 L95.4 59.0 L95.9 53.9 L96.4 49.1 L96.9 44.9 L97.4 41.9 L97.9 40.5 L98.4 40.9 L98.9 42.5 L99.4 45.2 L99.9 48.7 L100.4 52.9 L100.9 57.5 L101.4 62.5 L101.9 67.5 L102.4 72.5 L102.9 78.2 L103.4 85.8 L103.9 94.8 L104.4 104.4 L104.9 114.0 L105.4 122.9 L105.9 130.3 L106.4 135.5 L106.9 137.9 L107.4 136.6 L107.9 131.5 L108.4 123.6 L108.9 113.8 L109.4 103.3 L109.9 92.9 L110.4 83.7 L110.9 76.6 L111.4 72.5 L111.9 69.4 L112.4 66.6 L112.9 64.1 L113.4 62.0 L113.9 60.6 L114.4 60.0 L114.9 60.3 L115.4 61.6 L115.9 63.7 L116.4 66.4 L116.9 69.5 L117.4 72.8 L117.9 76.6 L118.4 81.7 L118.9 87.9 L119.4 95.0 L119.9 102.8 L120.4 111.3 L120.5 113.0"/>
<path id="gp_a7" d="M36.4 103.0 L36.9 106.3 L37.4 109.3 L37.9 112.1 L38.4 114.5 L38.9 116.7 L39.4 118.7 L39.9 120.3 L40.4 121.7 L40.9 122.8 L41.4 123.5 L41.9 124.0 L42.4 124.2 L42.9 124.0 L43.4 123.1 L43.9 121.5 L44.4 119.5 L44.9 117.1 L45.4 114.5 L45.9 111.7 L46.4 108.9 L46.9 106.2 L47.4 103.7 L47.9 101.5 L48.4 99.7 L48.9 98.5 L49.4 98.0 L49.9 98.3 L50.4 99.3 L50.9 100.9 L51.4 102.9 L51.9 105.1 L52.4 107.3 L52.9 109.4 L53.4 111.1 L53.9 112.4 L54.4 113.0 L54.9 112.8 L55.4 111.9 L55.9 110.5 L56.4 108.7 L56.9 106.7 L57.4 104.4 L57.9 102.2 L58.4 100.1 L58.9 98.2 L59.4 96.6 L59.9 95.5 L60.4 95.0 L60.9 95.5 L61.4 97.3 L61.9 100.4 L62.4 104.4 L62.9 109.1 L63.4 114.3 L63.9 119.8 L64.4 125.3 L64.9 130.6 L65.4 135.6 L65.9 139.9 L66.4 143.3 L66.9 145.7 L67.4 146.7 L67.9 146.2 L68.4 144.2 L68.9 140.9 L69.4 136.6 L69.9 131.4 L70.4 125.8 L70.9 119.8 L71.4 113.8 L71.9 108.0 L72.4 102.6 L72.9 98.0 L73.4 94.2 L73.9 91.7 L74.4 90.5 L74.9 91.2 L75.4 93.8 L75.9 98.0 L76.4 103.2 L76.9 109.2 L77.4 115.5 L77.9 121.7 L78.4 127.3 L78.9 131.9 L79.4 135.2 L79.9 136.7 L80.4 136.5 L80.9 135.6 L81.4 133.9 L81.9 131.5 L82.4 128.4 L82.9 124.5 L83.4 119.9 L83.9 114.5 L84.4 108.4 L84.9 101.5 L85.4 93.9 L85.9 85.6 L86.2 79.2 L90.5 150.0 L93.5 200.0 L96.6 150.0 L97.2 78.0 L99.7 50.0 L102.0 78.0 L102.6 150.0 L104.0 200.0"/>
<path id="gp_a7w" d="M124.3 168.5 L132.7 58.5 L134.5 58.5 L135.9 168.5 L141.0 168.5 L142.2 58.5 L143.0 58.5 L144.2 168.5 L148.3 168.5 L149.7 58.5 L154.3 58.5 L155.3 168.5 L155.7 168.5 L156.7 58.5 L158.3 58.5 L159.7 168.5 L163.1 168.5 L164.5 58.5 L166.5 58.5 L167.9 168.5"/>
<path id="ml_a_a1" d="M36.4 39.2 L36.9 37.5 L37.4 35.9 L37.9 34.5 L38.4 33.2 L38.9 32.2 L39.4 31.3 L39.9 30.6 L40.4 30.0 L40.9 29.6 L41.4 29.4 L41.9 29.3 L42.4 29.4 L42.9 29.8 L43.4 30.5 L43.9 31.3 L44.4 32.1 L44.9 32.9 L45.4 33.5 L45.9 34.1 L46.4 34.8 L46.9 35.4 L47.4 36.1 L47.9 36.7 L48.4 37.4 L48.9 38.0 L49.4 38.6 L49.9 39.1 L50.4 39.7 L50.9 40.3 L51.4 40.9 L51.9 41.4 L52.4 42.0 L52.9 42.5 L53.4 43.0 L53.9 43.5 L54.4 43.9 L54.9 44.2 L55.4 44.5 L55.9 44.8 L56.4 45.0 L56.9 45.3 L57.4 45.4 L57.9 45.5 L58.4 45.4 L58.9 45.0 L59.4 44.3 L59.9 43.3 L60.4 42.2 L60.9 41.0 L61.4 39.8 L61.9 38.5 L62.4 37.2 L62.9 36.1 L63.4 35.1 L63.9 34.3 L64.4 33.7 L64.9 33.5 L65.4 33.6 L65.9 33.9 L66.4 34.5 L66.9 35.2 L67.4 36.1 L67.9 37.1 L68.4 38.1 L68.9 39.2 L69.4 40.3 L69.9 41.3 L70.4 42.2 L70.9 43.0 L71.4 43.6 L71.9 44.1 L72.4 44.2 L72.9 44.2 L73.4 43.9 L73.9 43.3 L74.4 42.6 L74.9 41.8 L75.4 40.8 L75.9 39.8 L76.4 38.7 L76.9 37.6 L77.4 36.4 L77.9 35.3 L78.4 34.3 L78.9 33.4 L79.4 32.5 L79.9 31.8 L80.4 31.4 L80.9 31.1 L81.4 31.0 L81.9 31.0 L82.4 31.1 L82.9 31.3 L83.4 31.5 L83.9 31.7 L84.4 32.0 L84.9 32.3 L85.4 32.6 L85.9 33.0 L86.4 33.4 L86.9 33.8 L87.4 34.2 L87.9 34.7 L88.4 35.2 L88.9 35.7 L89.4 36.2 L89.9 37.0 L90.4 37.8 L90.9 38.7 L91.4 39.8 L91.9 40.9 L92.4 42.1 L92.9 43.3 L93.4 44.6 L93.9 45.9 L94.4 47.9 L94.9 50.2 L95.4 52.4 L95.9 53.9 L96.4 54.2 L96.9 54.2 L97.4 54.2 L97.9 54.2 L98.4 54.1 L98.9 54.1 L99.4 54.0 L99.9 53.9 L100.4 53.9 L100.9 53.8 L101.4 53.8 L101.9 53.8 L102.4 53.8 L102.9 53.8 L103.4 53.8 L103.9 53.9 L104.4 53.9 L104.9 54.0 L105.4 54.2 L105.9 54.3 L106.4 54.4 L106.9 54.6 L107.4 54.7 L107.9 54.9 L108.4 55.0 L108.9 55.2 L109.4 55.3 L109.9 55.5 L110.4 55.6 L110.9 55.8 L111.4 55.9 L111.9 56.1 L112.4 56.3 L112.9 56.5 L113.4 56.7 L113.9 56.8 L114.4 57.0 L114.9 57.1 L115.4 57.2 L115.9 57.2 L116.4 57.2 L116.9 57.0 L117.4 56.6 L117.9 56.0 L118.4 55.3 L118.9 54.5 L119.4 53.6 L119.9 52.7 L120.4 51.9 L120.9 51.0 L121.4 50.3 L121.9 49.5 L122.4 48.7 L122.9 47.9 L123.4 47.1 L123.9 46.3 L124.4 45.5 L124.9 44.7 L125.4 44.0 L125.9 43.4 L126.4 42.8 L126.9 42.4 L127.4 41.9 L127.9 41.5 L128.4 41.1 L128.9 40.8 L129.4 40.4 L129.9 40.1 L130.4 39.7 L130.9 39.4 L131.4 39.0 L131.9 38.6 L132.4 38.1 L132.9 37.6 L133.4 37.0 L133.9 36.4 L134.4 35.7 L134.9 35.1 L135.4 34.4 L135.9 33.7 L136.4 33.1 L136.9 32.4 L137.4 31.9 L137.9 31.3 L138.4 30.7 L138.9 30.1 L139.4 29.4 L139.9 28.9 L140.4 28.3 L140.9 27.9 L141.4 27.6 L141.9 27.5 L142.4 27.6 L142.9 28.0 L143.4 28.7 L143.9 29.6 L144.4 30.5 L144.9 31.6 L145.4 32.6 L145.9 33.6 L146.4 34.5 L146.9 35.4 L147.4 36.4 L147.9 37.4 L148.4 38.5 L148.9 39.5 L149.4 40.5 L149.9 41.4 L150.4 42.1 L150.9 42.7 L151.4 43.1 L151.9 43.5 L152.4 43.8 L152.9 44.1 L153.4 44.3 L153.9 44.6 L154.4 44.7 L154.9 44.7 L155.4 44.7 L155.9 44.5 L156.4 44.2 L156.9 43.9 L157.4 43.4 L157.9 42.9 L158.4 42.4 L158.9 41.8 L159.4 41.3 L159.9 40.8 L160.4 40.3 L160.9 39.9 L161.4 39.6 L161.9 39.3 L162.4 39.3 L162.9 39.4 L163.4 39.9 L163.9 40.7 L164.4 41.8 L164.9 42.9 L165.4 44.0 L165.9 44.9 L166.4 45.7 L166.9 46.5 L167.4 47.3 L167.9 48.1 L168.4 48.9 L168.9 49.6 L169.4 50.4 L169.9 51.1 L170.4 51.7 L170.9 52.2 L171.4 52.6 L171.9 52.9 L172.4 53.0 L172.9 52.9 L173.4 52.7 L173.9 52.3 L174.4 51.7 L174.9 51.1 L175.4 50.3 L175.9 49.5 L176.4 48.7 L176.9 47.9 L177.4 47.2 L177.9 46.5 L178.4 45.9 L178.9 45.4 L179.4 44.9 L179.9 44.4 L180.4 43.9 L180.9 43.4 L181.4 42.9 L181.9 42.5 L182.4 42.2 L182.9 41.9 L183.4 41.8 L183.9 41.8 L184.4 41.9 L184.9 42.1 L185.4 42.4 L185.9 42.8 L186.4 43.2 L186.9 43.7 L187.4 44.2 L187.9 44.7 L188.4 45.2 L188.9 45.6 L189.4 46.2 L189.9 46.8 L190.4 47.5 L190.9 48.1 L191.4 48.7 L191.9 49.1 L192.4 49.2 L192.9 49.1 L193.4 48.4 L193.9 47.4 L194.4 46.3 L194.9 45.1 L195.4 44.0 L195.9 43.3 L196.4 42.9 L196.9 42.8 L197.4 42.6 L197.9 42.5 L198.4 42.4 L198.9 42.3 L199.4 42.2 L199.9 42.2 L200.4 42.0 L200.9 41.9 L201.4 41.7 L201.9 41.4 L202.4 40.9 L202.9 40.4 L203.4 39.8 L203.9 39.2 L204.4 38.6 L204.9 38.1 L205.4 37.6 L205.9 36.9 L206.4 36.3 L206.9 35.6 L207.4 35.0 L207.9 34.6 L208.4 34.3 L208.9 34.3 L209.4 34.3 L209.9 34.4 L210.4 34.6 L210.9 34.8 L211.4 35.1 L211.9 35.4 L212.4 35.8 L212.9 36.1 L213.4 36.5 L213.9 36.9 L214.4 37.5 L214.9 38.3 L215.4 39.2 L215.9 40.2 L216.4 41.3 L216.9 42.3 L217.4 43.1 L217.9 43.8 L218.4 44.2 L218.9 44.2 L219.4 43.9 L219.9 43.2 L220.4 42.3 L220.9 41.3 L221.4 40.2 L221.9 39.1 L222.4 38.2 L222.9 37.3 L223.4 36.3 L223.9 35.3 L224.4 34.3 L224.9 33.5 L225.4 32.8 L225.9 32.3 L226.4 32.3 L226.9 32.3 L227.4 32.3 L227.9 32.4 L228.4 32.5 L228.9 32.7 L229.4 32.8 L229.9 33.0 L230.4 33.2 L230.9 33.5 L231.4 34.0 L231.9 34.6 L232.4 35.3 L232.9 36.0 L233.4 36.8 L233.9 37.6 L234.4 38.3 L234.9 39.1 L235.4 39.9 L235.9 40.7 L236.4 41.5 L236.9 42.4 L237.4 43.3 L237.9 44.3 L238.4 45.2 L238.9 46.1 L239.4 47.0 L239.9 47.8 L240.4 48.7 L240.9 49.6 L241.4 50.6 L241.9 51.6 L242.4 52.6 L242.9 53.5 L243.4 54.2 L243.9 54.9 L244.4 55.3 L244.9 55.5 L245.4 55.4 L245.9 55.1 L246.4 54.7 L246.9 54.2 L247.4 53.7 L247.9 53.3 L248.4 53.1 L248.9 53.0 L249.4 53.1 L249.9 53.2 L250.4 53.4 L250.9 53.6 L251.4 53.8 L251.9 54.0 L252.4 54.2 L252.9 54.4 L253.4 54.6 L253.9 54.8 L254.4 55.0 L254.9 55.2 L255.4 55.4 L255.9 55.5 L256.4 55.7 L256.9 55.9 L257.4 56.0 L257.9 56.1 L258.4 56.2 L258.9 56.3 L259.4 56.4 L259.9 56.5 L260.4 56.6 L260.9 56.6 L261.4 56.7 L261.9 56.7 L262.4 56.7 L262.9 56.7 L263.4 56.4 L263.9 55.9 L264.4 55.3 L264.9 54.6 L265.4 53.8 L265.9 53.0 L266.4 52.1 L266.9 51.3 L267.4 50.6 L267.9 50.0 L268.4 49.3 L268.9 48.6 L269.4 47.9 L269.9 47.2 L270.4 46.4 L270.9 45.7 L271.4 45.0 L271.9 44.3 L272.4 43.6 L272.9 42.9 L273.4 42.3 L273.9 41.7 L274.4 41.1 L274.9 40.6 L275.4 40.1 L275.9 39.7 L276.4 39.3 L276.9 38.9 L277.4 38.5 L277.9 38.2 L278.4 37.8 L278.9 37.5 L279.4 37.1 L279.9 36.7 L280.4 36.3 L280.9 35.8 L281.4 35.3 L281.9 34.7 L282.4 33.9 L282.9 33.0 L283.4 32.1 L283.9 31.2 L284.4 30.3 L284.9 29.4 L285.4 28.7 L285.9 28.1 L286.4 27.7 L286.9 27.5 L287.4 27.6 L287.9 28.2 L288.4 29.0 L288.9 30.1 L289.4 31.3 L289.9 32.5 L290.4 33.8 L290.9 34.9 L291.4 35.8 L291.9 36.6 L292.4 37.5 L292.9 38.5 L293.4 39.4 L293.9 40.2 L294.4 41.0 L294.9 41.7 L295.4 42.3 L295.9 42.8 L296.4 43.1 L296.9 43.3 L297.4 43.5 L297.9 43.7 L298.4 43.8 L298.9 44.0 L299.4 44.1 L299.9 44.2 L300.4 44.4 L300.9 44.5 L301.4 44.6 L301.9 44.7 L302.4 44.9 L302.9 44.9 L303.4 45.0 L303.9 45.0 L304.4 44.3 L304.9 43.1 L305.4 41.6 L305.9 40.0 L306.4 38.5 L306.9 37.3 L307.4 36.8 L307.9 36.9 L308.4 37.2 L308.9 37.8 L309.4 38.6 L309.9 39.4 L310.4 40.3 L310.9 41.2 L311.4 42.0 L311.9 42.8 L312.4 43.7 L312.9 44.7 L313.4 45.7 L313.9 46.7 L314.4 47.6 L314.9 48.6 L315.4 49.4 L315.9 50.1 L316.4 50.7 L316.9 51.2 L317.4 51.8 L317.9 52.3 L318.4 52.7 L318.9 53.1 L319.4 53.4 L319.9 53.5 L320.4 53.4 L320.9 53.2 L321.4 52.7 L321.9 52.2 L322.4 51.5 L322.9 50.8 L323.4 50.1 L323.9 49.4 L324.4 48.7 L324.9 48.1 L325.4 47.6 L325.9 47.0 L326.4 46.4 L326.9 45.8 L327.4 45.3 L327.9 44.7 L328.4 44.2 L328.9 43.7 L329.4 43.4 L329.9 43.1 L330.4 42.8 L330.9 42.6 L331.4 42.3 L331.9 42.1 L332.4 42.0 L332.9 41.8 L333.4 41.8 L333.9 41.8 L334.4 42.1 L334.9 42.8 L335.4 43.7 L335.9 44.7 L336.4 45.8 L336.9 46.9 L337.4 47.8 L337.9 48.7 L338.4 49.7 L338.9 50.6 L339.4 51.4 L339.9 51.7 L340.4 51.5 L340.9 50.7 L341.4 49.4 L341.9 47.8 L342.4 46.2 L342.9 44.7 L343.4 43.5 L343.9 42.8 L344.4 42.3 L344.9 41.9 L345.4 41.5 L345.9 41.1 L346.4 40.8 L346.9 40.5 L347.4 40.2 L347.9 39.9 L348.4 39.5 L348.9 39.1 L349.4 38.7 L349.9 38.3 L350.4 37.8 L350.9 37.4 L351.4 36.9 L351.9 36.4 L352.4 36.0 L352.9 35.6 L353.4 35.2 L353.9 34.9 L354.4 34.6 L354.9 34.2 L355.4 33.8 L355.9 33.5 L356.4 33.3 L356.9 33.1 L357.4 33.0 L357.9 33.1 L358.4 33.6 L358.9 34.4 L359.4 35.4 L359.9 36.5 L360.4 37.6 L360.9 38.6 L361.4 39.5 L361.9 40.4 L362.4 41.4 L362.9 42.4 L363.4 43.4 L363.9 44.2 L364.4 44.7 L364.9 45.0 L365.4 44.8 L365.9 44.2 L366.4 43.3 L366.9 42.1 L367.4 40.9 L367.9 39.7 L368.4 38.6 L368.9 37.8 L369.4 37.0 L369.9 36.1 L370.4 35.3 L370.9 34.5 L371.4 33.7 L371.9 33.0 L372.4 32.5 L372.9 32.0 L373.4 31.8 L373.9 31.8 L374.4 31.8 L374.9 31.9 L375.4 32.0 L375.9 32.2 L376.4 32.4 L376.9 32.7 L377.4 32.9 L377.9 33.3 L378.4 33.7 L378.9 34.3 L379.4 35.0 L379.9 35.8 L380.4 36.6 L380.9 37.4 L381.4 38.2 L381.9 39.1 L382.4 40.1 L382.9 41.2 L383.4 42.3 L383.9 43.4 L384.4 44.4 L384.9 45.3 L385.4 46.2 L385.9 47.2 L386.4 48.2 L386.9 49.2 L387.4 50.1 L387.9 51.0 L388.4 51.8 L388.9 52.4 L389.4 52.8 L389.9 53.0 L390.4 53.0 L390.9 53.0 L391.4 53.0 L391.9 53.0 L392.4 53.0 L392.9 53.0 L393.4 53.0 L393.9 53.0 L394.4 53.0 L394.9 53.0 L395.4 53.1 L395.9 53.5 L396.4 54.0 L396.9 54.6 L397.4 55.0 L397.9 55.2 L398.4 55.4 L398.9 55.5 L399.4 55.7 L399.9 55.8 L400.4 55.9 L400.9 56.0 L401.4 56.0 L401.9 56.0 L402.4 55.9 L402.9 55.8 L403.4 55.7 L403.9 55.6 L404.4 55.5 L404.9 55.5 L405.4 55.5 L405.9 55.6 L406.4 55.7 L406.9 55.9 L407.4 56.1 L407.9 56.3 L408.4 56.4 L408.9 56.6 L409.4 56.7 L409.9 56.7 L410.4 56.6 L410.9 56.1 L411.4 55.3 L411.9 54.4 L412.4 53.3 L412.9 52.2 L413.4 51.1 L413.9 50.2 L414.4 49.3 L414.9 48.4 L415.4 47.4 L415.9 46.4 L416.4 45.4 L416.9 44.5 L417.4 43.6 L417.9 42.8 L418.4 42.2 L418.9 41.6 L419.4 41.1 L419.9 40.7 L420.4 40.3 L420.9 40.0 L421.4 39.7 L421.9 39.3 L422.4 39.0 L422.9 38.7 L423.4 38.3 L423.9 37.9 L424.4 37.4 L424.9 37.0 L425.4 36.5 L425.9 36.0 L426.4 35.5 L426.9 34.9 L427.4 34.4 L427.9 33.9 L428.4 33.4 L428.9 32.8 L429.4 32.2 L429.9 31.5 L430.4 30.8 L430.9 30.1 L431.4 29.4 L431.9 28.7 L432.4 28.2 L432.9 27.8 L433.4 27.6 L433.9 27.5 L434.4 27.7 L434.9 28.1 L435.4 28.7 L435.9 29.4 L436.4 30.2 L436.9 31.1 L437.4 32.0 L437.9 32.9 L438.4 33.7 L438.9 34.5 L439.4 35.2 L439.9 36.1 L440.4 36.9 L440.9 37.8 L441.4 38.7 L441.9 39.5 L442.4 40.2 L442.9 40.9 L443.4 41.5 L443.9 41.9 L444.4 42.2 L444.9 42.6 L445.4 42.9 L445.9 43.3 L446.4 43.6 L446.9 43.8 L447.4 44.0 L447.9 44.1 L448.4 44.2 L448.9 44.2 L449.4 43.9 L449.9 43.4 L450.4 42.6 L450.9 41.7 L451.4 40.8 L451.9 40.0 L452.4 39.4 L452.9 38.8 L453.4 38.3 L453.9 37.7 L454.4 37.3 L454.9 36.9 L455.4 36.8 L455.9 36.9 L456.4 37.6 L456.9 38.6 L457.4 39.8 L457.9 41.0 L458.4 42.3 L458.9 43.3 L459.4 44.4 L459.9 45.5 L460.4 46.7 L460.9 47.8 L461.4 48.8 L461.9 49.7 L462.4 50.4 L462.9 50.9 L463.4 51.4 L463.9 51.8 L464.4 52.2 L464.9 52.6 L465.4 52.8 L465.9 53.0 L466.4 53.0 L466.9 52.8 L467.4 52.4 L467.9 51.9 L468.4 51.2 L468.9 50.6 L469.4 49.9 L469.9 49.4 L470.4 48.8 L470.9 48.2 L471.4 47.6 L471.9 46.9 L472.4 46.3 L472.9 45.6 L473.4 45.1 L473.9 44.7 L474.4 44.4 L474.9 44.3 L475.4 44.3 L475.9 44.3 L476.4 44.5 L476.9 44.6 L477.4 44.8 L477.9 45.1 L478.4 45.3 L478.9 45.6 L479.4 46.0 L479.9 46.5 L480.4 47.0 L480.9 47.6 L481.4 48.2 L481.9 48.8 L482.4 49.6 L482.9 50.3 L483.4 51.0 L483.9 51.5 L484.4 51.7 L484.9 51.5 L485.4 50.7 L485.9 49.5 L486.4 48.0 L486.9 46.6 L487.4 45.3 L487.9 44.4 L488.4 43.8 L488.9 43.3 L489.4 42.7 L489.9 42.3 L490.4 42.0 L490.9 41.8 L491.4 41.8 L491.9 41.8 L492.4 42.0 L492.9 42.3 L493.4 42.5 L493.9 42.7 L494.4 42.9 L494.9 43.0 L495.4 43.0 L495.9 42.8 L496.4 42.5 L496.9 42.2 L497.4 41.7 L497.9 41.3 L498.4 40.8 L498.9 40.4 L499.4 39.7 L499.9 38.9 L500.4 37.9 L500.9 36.9 L501.4 35.9 L501.9 34.9 L502.4 34.1 L502.9 33.5 L503.4 33.1 L503.9 33.0 L504.4 33.3 L504.9 33.7 L505.4 34.4 L505.9 35.2 L506.4 36.1 L506.9 37.0 L507.4 37.8 L507.9 38.7 L508.4 39.8 L508.9 41.1 L509.4 42.3 L509.9 43.4 L510.4 44.3 L510.9 44.9 L511.4 45.0 L511.9 44.3 L512.4 43.0 L512.8 41.8"/>
<path id="ml_a_a7" d="M36.4 103.0 L36.9 106.5 L37.4 109.9 L37.9 113.0 L38.4 115.9 L38.9 118.5 L39.4 120.8 L39.9 122.8 L40.4 124.4 L40.9 125.6 L41.4 126.4 L41.9 126.7 L42.4 126.6 L42.9 125.9 L43.4 124.8 L43.9 123.4 L44.4 121.6 L44.9 119.6 L45.4 117.5 L45.9 115.3 L46.4 113.1 L46.9 110.9 L47.4 108.9 L47.9 107.1 L48.4 105.5 L48.9 104.2 L49.4 103.4 L49.9 103.0 L50.4 103.2 L50.9 104.1 L51.4 105.4 L51.9 107.0 L52.4 108.9 L52.9 110.7 L53.4 112.5 L53.9 114.0 L54.4 115.0 L54.9 115.5 L55.4 115.1 L55.9 113.5 L56.4 111.2 L56.9 108.5 L57.4 105.8 L57.9 103.5 L58.4 102.1 L58.9 101.8 L59.4 102.5 L59.9 103.9 L60.4 105.8 L60.9 108.2 L61.4 110.9 L61.9 113.8 L62.4 116.6 L62.9 119.3 L63.4 121.6 L63.9 123.6 L64.4 124.9 L64.9 125.5 L65.4 125.2 L65.9 124.1 L66.4 122.3 L66.9 120.0 L67.4 117.3 L67.9 114.3 L68.4 111.4 L68.9 108.4 L69.4 105.8 L69.9 103.5 L70.4 101.8 L70.9 100.7 L71.4 100.5 L71.9 101.1 L72.4 102.2 L72.9 103.7 L73.4 105.6 L73.9 107.8 L74.4 110.0 L74.9 112.2 L75.4 114.3 L75.9 116.2 L76.4 117.7 L76.9 118.8 L77.4 119.2 L77.9 119.2 L78.4 118.8 L78.9 118.2 L79.4 117.4 L79.9 116.5 L80.4 115.4 L80.9 114.2 L81.4 113.0 L81.9 111.7 L82.4 110.4 L82.9 109.2 L83.4 108.0 L83.9 106.9 L84.4 106.0 L84.9 105.2 L85.4 104.6 L85.9 104.3 L86.4 104.3 L86.9 104.6 L87.4 105.3 L87.9 106.2 L88.4 107.3 L88.9 108.6 L89.4 109.9 L89.9 111.3 L90.4 112.5 L90.9 113.7 L91.4 114.6 L91.9 115.2 L92.4 115.5 L92.9 115.4 L93.4 115.1 L93.9 114.5 L94.4 113.8 L94.9 113.0 L95.4 112.2 L95.9 111.3 L96.4 110.4 L96.9 109.6 L97.4 108.9 L97.9 108.4 L98.4 108.1 L98.9 108.0 L99.4 108.3 L99.9 108.9 L100.4 109.7 L100.9 110.7 L101.4 111.9 L101.9 113.1 L102.4 114.2 L102.9 115.4 L103.4 116.4 L103.9 117.2 L104.4 117.7 L104.9 118.0 L105.4 117.9 L105.9 117.7 L106.4 117.2 L106.9 116.6 L107.4 115.9 L107.9 115.1 L108.4 114.2 L108.9 113.4 L109.4 112.5 L109.9 111.7 L110.4 110.9 L110.9 110.3 L111.4 109.8 L111.9 109.4 L112.4 109.3 L112.9 109.4 L113.4 109.7 L113.9 110.4 L114.4 111.2 L114.9 112.1 L115.4 113.2 L115.9 114.2 L116.4 115.2 L116.9 116.2 L117.4 117.0 L117.9 117.6 L118.4 117.9 L118.9 118.0 L119.4 117.6 L119.9 116.8 L120.4 115.6 L120.9 114.2 L121.4 112.7 L121.9 111.0 L122.4 109.4 L122.9 107.9 L123.4 106.5 L123.9 105.4 L124.4 104.6 L124.9 104.3 L125.4 104.6 L125.9 106.0 L126.4 108.1 L126.9 110.7 L127.4 113.5 L127.9 116.2 L128.4 118.5 L128.9 120.2 L129.4 121.0 L129.9 120.9 L130.4 120.6 L130.9 120.2 L131.4 119.6 L131.9 118.8 L132.4 118.0 L132.9 117.2 L133.4 116.4 L133.9 115.6 L134.4 114.9 L134.9 114.3 L135.4 113.8 L135.9 113.6 L136.4 113.5 L136.9 114.0 L137.4 115.0 L137.9 116.3 L138.4 117.9 L138.9 119.6 L139.4 121.3 L139.9 122.8 L140.4 124.1 L140.9 125.1 L141.4 125.5 L141.9 125.4 L142.4 124.9 L142.9 124.2 L143.4 123.2 L143.9 121.9 L144.4 120.5 L144.9 118.8 L145.4 117.1 L145.9 115.2 L146.4 113.3 L146.9 111.4 L147.4 109.5 L147.9 107.6 L148.4 105.8 L148.9 104.2 L149.4 102.6 L149.9 101.3 L150.4 100.2 L150.9 99.3 L151.4 98.8 L151.9 98.5 L152.4 98.6 L152.9 99.0 L153.4 99.7 L153.9 100.6 L154.4 101.8 L154.9 103.0 L155.4 104.5 L155.9 106.0 L156.4 107.5 L156.9 109.1 L157.4 110.7 L157.9 112.2 L158.4 113.6 L158.9 114.9 L159.4 116.0 L159.9 116.9 L160.4 117.5 L160.9 117.9 L161.4 118.0 L161.9 117.9 L162.4 117.6 L162.9 117.3 L163.4 116.9 L163.9 116.4 L164.4 115.8 L164.9 115.2 L165.4 114.5 L165.9 113.9 L166.4 113.3 L166.9 112.7 L167.4 112.1 L167.9 111.6 L168.4 111.2 L168.9 110.8 L169.4 110.6 L169.9 110.5 L170.4 110.6 L170.9 110.8 L171.4 111.1 L171.9 111.5 L172.4 112.0 L172.9 112.4 L173.4 112.8 L173.9 113.1 L174.4 113.3 L174.9 113.5 L175.4 113.7 L175.9 113.8 L176.4 114.0 L176.9 114.2 L177.4 114.3 L177.9 114.5 L178.4 114.7 L178.9 114.9 L179.4 115.1 L179.9 115.4 L180.4 115.8 L180.9 116.5 L181.4 117.3 L181.9 118.3 L182.4 119.4 L182.9 120.5 L183.4 121.6 L183.9 122.7 L184.4 123.6 L184.9 124.4 L185.4 125.1 L185.9 125.4 L186.4 125.5 L186.9 125.3 L187.4 124.8 L187.9 124.1 L188.4 123.2 L188.9 122.1 L189.4 120.9 L189.9 119.7 L190.4 118.3 L190.9 117.0 L191.4 115.7 L191.9 114.5 L192.4 113.3 L192.9 112.2 L193.4 111.4 L193.9 110.7 L194.4 110.2 L194.9 110.0 L195.4 110.0 L195.9 110.2 L196.4 110.5 L196.9 110.9 L197.4 111.4 L197.9 111.9 L198.4 112.4 L198.9 112.9 L199.4 113.4 L199.9 113.7 L200.4 114.0 L200.9 114.2 L201.4 114.2 L201.9 113.8 L202.4 112.8 L202.9 111.7 L203.4 110.4 L203.9 109.3 L204.4 108.4 L204.9 108.0 L205.4 108.1 L205.9 108.6 L206.4 109.4 L206.9 110.4 L207.4 111.5 L207.9 112.6 L208.4 113.7 L208.9 114.6 L209.4 115.2 L209.9 115.5 L210.4 115.3 L210.9 114.6 L211.4 113.4 L211.9 111.9 L212.4 110.2 L212.9 108.3 L213.4 106.3 L213.9 104.4 L214.4 102.7 L214.9 101.2 L215.4 100.1 L215.9 99.4 L216.4 99.3 L216.9 99.8 L217.4 100.8 L217.9 102.2 L218.4 104.0 L218.9 106.0 L219.4 108.3 L219.9 110.7 L220.4 113.0 L220.9 115.3 L221.4 117.5 L221.9 119.4 L222.4 121.0 L222.9 122.2 L223.4 122.8 L223.9 123.0 L224.4 122.6 L224.9 121.9 L225.4 120.8 L225.9 119.5 L226.4 118.0 L226.9 116.3 L227.4 114.6 L227.9 112.9 L228.4 111.2 L228.9 109.6 L229.4 108.2 L229.9 107.0 L230.4 106.1 L230.9 105.6 L231.4 105.5 L231.9 105.6 L232.4 105.8 L232.9 106.0 L233.4 106.4 L233.9 106.7 L234.4 107.1 L234.9 107.5 L235.4 107.9 L235.9 108.3 L236.4 108.7 L236.9 109.0 L237.4 109.2 L237.9 109.4 L238.4 109.5 L238.9 109.6 L239.4 109.7 L239.9 109.8 L240.4 109.9 L240.9 110.0 L241.4 110.2 L241.9 110.3 L242.4 110.5 L242.9 110.7 L243.4 111.1 L243.9 111.5 L244.4 112.1 L244.9 112.7 L245.4 113.4 L245.9 114.1 L246.4 114.8 L246.9 115.5 L247.4 116.1 L247.9 116.7 L248.4 117.2 L248.9 117.6 L249.4 117.9 L249.9 118.0 L250.4 117.9 L250.9 117.4 L251.4 116.7 L251.9 115.8 L252.4 114.7 L252.9 113.5 L253.4 112.3 L253.9 111.2 L254.4 110.1 L254.9 109.2 L255.4 108.5 L255.9 108.1 L256.4 108.0 L256.9 108.1 L257.4 108.4 L257.9 108.7 L258.4 109.1 L258.9 109.6 L259.4 110.2 L259.9 110.8 L260.4 111.5 L260.9 112.1 L261.4 112.7 L261.9 113.3 L262.4 113.9 L262.9 114.4 L263.4 114.8 L263.9 115.2 L264.4 115.4 L264.9 115.5 L265.4 115.3 L265.9 114.6 L266.4 113.4 L266.9 111.9 L267.4 110.2 L267.9 108.5 L268.4 106.7 L268.9 105.2 L269.4 103.9 L269.9 102.9 L270.4 102.5 L270.9 102.7 L271.4 103.6 L271.9 105.1 L272.4 107.0 L272.9 109.2 L273.4 111.6 L273.9 114.1 L274.4 116.6 L274.9 118.9 L275.4 120.9 L275.9 122.6 L276.4 123.7 L276.9 124.2 L277.4 124.1 L277.9 123.4 L278.4 122.4 L278.9 121.1 L279.4 119.7 L279.9 118.2 L280.4 116.7 L280.9 115.3 L281.4 114.2 L281.9 113.4 L282.4 113.0 L282.9 113.2 L283.4 113.8 L283.9 114.8 L284.4 116.0 L284.9 117.5 L285.4 119.1 L285.9 120.8 L286.4 122.4 L286.9 123.8 L287.4 125.1 L287.9 126.1 L288.4 126.6 L288.9 126.7 L289.4 126.3 L289.9 125.3 L290.4 123.9 L290.9 122.1 L291.4 120.1 L291.9 117.8 L292.4 115.4 L292.9 112.9 L293.4 110.4 L293.9 108.0 L294.4 105.7 L294.9 103.7 L295.4 102.0 L295.9 100.6 L296.4 99.7 L296.9 99.3 L297.4 99.3 L297.9 99.6 L298.4 100.2 L298.9 100.9 L299.4 101.7 L299.9 102.8 L300.4 103.9 L300.9 105.1 L301.4 106.4 L301.9 107.7 L302.4 109.0 L302.9 110.4 L303.4 111.7 L303.9 112.9 L304.4 114.1 L304.9 115.1 L305.4 116.0 L305.9 116.8 L306.4 117.4 L306.9 117.8 L307.4 118.0 L307.9 117.9 L308.4 117.4 L308.9 116.6 L309.4 115.6 L309.9 114.5 L310.4 113.2 L310.9 111.8 L311.4 110.4 L311.9 109.0 L312.4 107.8 L312.9 106.7 L313.4 105.9 L313.9 105.3 L314.4 105.0 L314.9 105.1 L315.4 105.5 L315.9 106.2 L316.4 107.0 L316.9 108.0 L317.4 109.1 L317.9 110.3 L318.4 111.5 L318.9 112.6 L319.4 113.6 L319.9 114.4 L320.4 115.0 L320.9 115.4 L321.4 115.5 L321.9 115.3 L322.4 115.0 L322.9 114.5 L323.4 114.0 L323.9 113.5 L324.4 112.9 L324.9 112.4 L325.4 112.0 L325.9 111.8 L326.4 111.8 L326.9 112.2 L327.4 113.0 L327.9 114.1 L328.4 115.5 L328.9 117.1 L329.4 118.7 L329.9 120.3 L330.4 121.9 L330.9 123.3 L331.4 124.4 L331.9 125.1 L332.4 125.5 L332.9 125.4 L333.4 125.1 L333.9 124.5 L334.4 123.7 L334.9 122.7 L335.4 121.6 L335.9 120.5 L336.4 119.2 L336.9 117.9 L337.4 116.7 L337.9 115.4 L338.4 114.2 L338.9 113.2 L339.4 112.2 L339.9 111.5 L340.4 110.9 L340.9 110.6 L341.4 110.5 L341.9 110.5 L342.4 110.5 L342.9 110.5 L343.4 110.5 L343.9 110.5 L344.4 110.5 L344.9 110.5 L345.4 110.3 L345.9 109.8 L346.4 108.8 L346.9 107.7 L347.4 106.4 L347.9 105.1 L348.4 103.9 L348.9 102.8 L349.4 102.1 L349.9 101.8 L350.4 101.9 L350.9 102.4 L351.4 103.4 L351.9 104.6 L352.4 106.0 L352.9 107.6 L353.4 109.3 L353.9 111.0 L354.4 112.8 L354.9 114.4 L355.4 115.9 L355.9 117.2 L356.4 118.2 L356.9 118.9 L357.4 119.2 L357.9 119.0 L358.4 118.0 L358.9 116.4 L359.4 114.3 L359.9 111.8 L360.4 109.2 L360.9 106.5 L361.4 103.9 L361.9 101.5 L362.4 99.4 L362.9 97.9 L363.4 97.0 L363.9 96.8 L364.4 97.3 L364.9 98.5 L365.4 100.2 L365.9 102.2 L366.4 104.6 L366.9 107.2 L367.4 110.0 L367.9 112.7 L368.4 115.4 L368.9 117.8 L369.4 120.1 L369.9 121.9 L370.4 123.3 L370.9 124.1 L371.4 124.2 L371.9 123.9 L372.4 123.2 L372.9 122.3 L373.4 121.0 L373.9 119.6 L374.4 118.0 L374.9 116.2 L375.4 114.4 L375.9 112.6 L376.4 110.8 L376.9 109.1 L377.4 107.5 L377.9 106.1 L378.4 104.9 L378.9 103.9 L379.4 103.3 L379.9 103.0 L380.4 103.0 L380.9 103.2 L381.4 103.5 L381.9 103.9 L382.4 104.4 L382.9 104.9 L383.4 105.5 L383.9 106.0 L384.4 106.6 L384.9 107.2 L385.4 107.8 L385.9 108.2 L386.4 108.7 L386.9 109.0 L387.4 109.2 L387.9 109.4 L388.4 109.5 L388.9 109.6 L389.4 109.6 L389.9 109.7 L390.4 109.8 L390.9 109.8 L391.4 109.9 L391.9 109.9 L392.4 110.0 L392.9 110.0 L393.4 110.1 L393.9 110.2 L394.4 110.3 L394.9 110.5 L395.4 110.7 L395.9 111.3 L396.4 112.2 L396.9 113.2 L397.4 114.2 L397.9 115.3 L398.4 116.3 L398.9 117.1 L399.4 117.7 L399.9 118.0 L400.4 117.9 L400.9 117.5 L401.4 116.8 L401.9 116.0 L402.4 114.9 L402.9 113.8 L403.4 112.6 L403.9 111.4 L404.4 110.3 L404.9 109.2 L405.4 108.2 L405.9 107.5 L406.4 107.0 L406.9 106.8 L407.4 106.9 L407.9 107.5 L408.4 108.4 L408.9 109.6 L409.4 110.9 L409.9 112.2 L410.4 113.4 L410.9 114.4 L411.4 115.2 L411.9 115.5 L412.4 115.3 L412.9 114.4 L413.4 113.1 L413.9 111.5 L414.4 109.6 L414.9 107.8 L415.4 106.0 L415.9 104.5 L416.4 103.5 L416.9 103.0 L417.4 103.2 L417.9 104.0 L418.4 105.2 L418.9 106.9 L419.4 108.8 L419.9 110.9 L420.4 113.1 L420.9 115.3 L421.4 117.4 L421.9 119.3 L422.4 120.9 L422.9 122.1 L423.4 122.8 L423.9 123.0 L424.4 122.4 L424.9 121.3 L425.4 119.8 L425.9 118.1 L426.4 116.2 L426.9 114.4 L427.4 112.7 L427.9 111.5 L428.4 110.7 L428.9 110.5 L429.4 111.1 L429.9 112.3 L430.4 114.0 L430.9 116.0 L431.4 118.2 L431.9 120.5 L432.4 122.7 L432.9 124.7 L433.4 126.3 L433.9 127.5 L434.4 128.0 L434.9 127.8 L435.4 127.1 L435.9 125.9 L436.4 124.2 L436.9 122.3 L437.4 120.0 L437.9 117.6 L438.4 115.1 L438.9 112.5 L439.4 109.9 L439.9 107.4 L440.4 105.1 L440.9 103.0 L441.4 101.2 L441.9 99.9 L442.4 98.9 L442.9 98.5 L443.4 98.6 L443.9 98.9 L444.4 99.5 L444.9 100.2 L445.4 101.1 L445.9 102.2 L446.4 103.4 L446.9 104.7 L447.4 106.1 L447.9 107.5 L448.4 108.9 L448.9 110.4 L449.4 111.8 L449.9 113.2 L450.4 114.5 L450.9 115.6 L451.4 116.7 L451.9 117.6 L452.4 118.4 L452.9 118.9 L453.4 119.2 L453.9 119.2 L454.4 118.8 L454.9 117.9 L455.4 116.7 L455.9 115.1 L456.4 113.4 L456.9 111.7 L457.4 109.9 L457.9 108.2 L458.4 106.7 L458.9 105.5 L459.4 104.6 L459.9 104.3 L460.4 104.4 L460.9 105.0 L461.4 106.0 L461.9 107.3 L462.4 108.8 L462.9 110.4 L463.4 112.0 L463.9 113.6 L464.4 115.1 L464.9 116.4 L465.4 117.3 L465.9 117.9 L466.4 118.0 L466.9 117.7 L467.4 117.2 L467.9 116.4 L468.4 115.5 L468.9 114.6 L469.4 113.7 L469.9 112.9 L470.4 112.2 L470.9 111.8 L471.4 111.8 L471.9 112.1 L472.4 112.7 L472.9 113.5 L473.4 114.6 L473.9 115.8 L474.4 117.2 L474.9 118.6 L475.4 120.0 L475.9 121.4 L476.4 122.7 L476.9 123.8 L477.4 124.8 L477.9 125.5 L478.4 125.9 L478.9 126.0 L479.4 125.8 L479.9 125.4 L480.4 124.9 L480.9 124.2 L481.4 123.3 L481.9 122.3 L482.4 121.2 L482.9 120.1 L483.4 118.9 L483.9 117.6 L484.4 116.3 L484.9 115.0 L485.4 113.8 L485.9 112.6 L486.4 111.4 L486.9 110.3 L487.4 109.4 L487.9 108.5 L488.4 107.8 L488.9 107.3 L489.4 106.9 L489.9 106.8 L490.4 107.2 L490.9 108.6 L491.4 110.4 L491.9 112.1 L492.4 113.0 L492.9 112.7 L493.4 111.8 L493.9 110.2 L494.4 108.4 L494.9 106.4 L495.4 104.5 L495.9 102.8 L496.4 101.6 L496.9 101.0 L497.4 101.3 L497.9 102.2 L498.4 103.7 L498.9 105.7 L499.4 107.9 L499.9 110.2 L500.4 112.5 L500.9 114.5 L501.4 116.2 L501.9 117.4 L502.4 118.0 L502.9 117.8 L503.4 117.0 L503.9 115.8 L504.4 114.1 L504.9 112.2 L505.4 110.1 L505.9 107.9 L506.4 105.7 L506.9 103.6 L507.4 101.7 L507.9 100.1 L508.4 98.9 L508.9 98.2 L509.4 98.0 L509.9 98.2 L510.4 98.7 L510.9 99.3 L511.4 100.2 L511.9 101.4 L512.4 102.8 L512.8 104.0"/>
<path id="ml_b_a1" d="M36.4 40.0 L36.9 39.0 L37.4 38.1 L37.9 37.3 L38.4 36.5 L38.9 35.8 L39.4 35.3 L39.9 34.8 L40.4 34.5 L40.9 34.3 L41.4 34.3 L41.9 34.4 L42.4 34.6 L42.9 34.9 L43.4 35.3 L43.9 35.7 L44.4 36.1 L44.9 36.5 L45.4 36.9 L45.9 37.2 L46.4 37.4 L46.9 37.5 L47.4 37.5 L47.9 37.3 L48.4 37.0 L48.9 36.7 L49.4 36.3 L49.9 36.0 L50.4 35.6 L50.9 35.3 L51.4 35.1 L51.9 35.0 L52.4 35.1 L52.9 35.5 L53.4 36.2 L53.9 37.1 L54.4 38.1 L54.9 39.2 L55.4 40.2 L55.9 41.2 L56.4 42.0 L56.9 42.9 L57.4 43.8 L57.9 44.8 L58.4 45.8 L58.9 46.7 L59.4 47.6 L59.9 48.3 L60.4 48.9 L60.9 49.2 L61.4 49.2 L61.9 49.2 L62.4 49.0 L62.9 48.8 L63.4 48.5 L63.9 48.2 L64.4 47.9 L64.9 47.5 L65.4 47.2 L65.9 46.9 L66.4 46.5 L66.9 46.3 L67.4 46.0 L67.9 45.9 L68.4 45.7 L68.9 45.5 L69.4 45.3 L69.9 45.1 L70.4 44.9 L70.9 44.8 L71.4 44.6 L71.9 44.5 L72.4 44.4 L72.9 44.3 L73.4 44.3 L73.9 44.3 L74.4 44.3 L74.9 44.5 L75.4 44.8 L75.9 45.2 L76.4 45.6 L76.9 46.1 L77.4 46.6 L77.9 47.1 L78.4 47.6 L78.9 48.2 L79.4 48.8 L79.9 49.6 L80.4 50.5 L80.9 51.4 L81.4 52.4 L81.9 53.4 L82.4 54.4 L82.9 55.3 L83.4 56.2 L83.9 57.0 L84.4 57.8 L84.9 58.6 L85.4 59.5 L85.9 60.4 L86.4 61.2 L86.9 62.0 L87.4 62.7 L87.9 63.3 L88.4 63.8 L88.9 64.1 L89.4 64.2 L89.9 64.1 L90.4 63.6 L90.9 62.8 L91.4 61.9 L91.9 60.9 L92.4 59.9 L92.9 59.0 L93.4 58.3 L93.9 57.9 L94.4 57.6 L94.9 57.4 L95.4 57.1 L95.9 56.9 L96.4 56.7 L96.9 56.5 L97.4 56.4 L97.9 56.3 L98.4 56.3 L98.9 56.3 L99.4 56.3 L99.9 56.4 L100.4 56.5 L100.9 56.6 L101.4 56.6 L101.9 56.7 L102.4 56.7 L102.9 56.7 L103.4 56.3 L103.9 55.7 L104.4 55.0 L104.9 54.1 L105.4 53.2 L105.9 52.2 L106.4 51.2 L106.9 50.2 L107.4 49.4 L107.9 48.6 L108.4 47.8 L108.9 46.9 L109.4 46.1 L109.9 45.2 L110.4 44.4 L110.9 43.6 L111.4 42.9 L111.9 42.3 L112.4 41.8 L112.9 41.5 L113.4 41.2 L113.9 40.9 L114.4 40.7 L114.9 40.5 L115.4 40.3 L115.9 40.1 L116.4 39.9 L116.9 39.6 L117.4 39.3 L117.9 38.9 L118.4 38.4 L118.9 37.9 L119.4 37.3 L119.9 36.6 L120.4 35.9 L120.9 35.2 L121.4 34.5 L121.9 33.8 L122.4 33.1 L122.9 32.5 L123.4 31.7 L123.9 30.9 L124.4 30.1 L124.9 29.4 L125.4 28.9 L125.9 28.6 L126.4 28.5 L126.9 28.7 L127.4 29.2 L127.9 29.8 L128.4 30.6 L128.9 31.5 L129.4 32.4 L129.9 33.3 L130.4 34.2 L130.9 35.0 L131.4 35.7 L131.9 36.4 L132.4 37.1 L132.9 37.9 L133.4 38.7 L133.9 39.5 L134.4 40.3 L134.9 41.0 L135.4 41.6 L135.9 42.2 L136.4 42.7 L136.9 43.1 L137.4 43.4 L137.9 43.5 L138.4 43.5 L138.9 43.3 L139.4 43.1 L139.9 42.8 L140.4 42.4 L140.9 42.0 L141.4 41.5 L141.9 41.0 L142.4 40.4 L142.9 39.9 L143.4 39.4 L143.9 38.9 L144.4 38.5 L144.9 38.1 L145.4 37.7 L145.9 37.3 L146.4 36.9 L146.9 36.4 L147.4 36.0 L147.9 35.6 L148.4 35.2 L148.9 34.9 L149.4 34.6 L149.9 34.4 L150.4 34.3 L150.9 34.3 L151.4 34.5 L151.9 34.9 L152.4 35.4 L152.9 36.1 L153.4 36.9 L153.9 37.7 L154.4 38.4 L154.9 39.1 L155.4 39.8 L155.9 40.6 L156.4 41.5 L156.9 42.4 L157.4 43.2 L157.9 43.8 L158.4 44.2 L158.9 44.2 L159.4 44.1 L159.9 43.7 L160.4 43.2 L160.9 42.5 L161.4 41.7 L161.9 40.9 L162.4 40.0 L162.9 39.2 L163.4 38.3 L163.9 37.5 L164.4 36.8 L164.9 36.2 L165.4 35.8 L165.9 35.6 L166.4 35.5 L166.9 35.6 L167.4 35.9 L167.9 36.2 L168.4 36.7 L168.9 37.3 L169.4 38.0 L169.9 38.8 L170.4 39.6 L170.9 40.5 L171.4 41.4 L171.9 42.4 L172.4 43.4 L172.9 44.4 L173.4 45.4 L173.9 46.5 L174.4 47.5 L174.9 48.4 L175.4 49.4 L175.9 50.2 L176.4 51.1 L176.9 51.8 L177.4 52.5 L177.9 53.1 L178.4 53.5 L178.9 53.9 L179.4 54.1 L179.9 54.2 L180.4 54.2 L180.9 54.0 L181.4 53.6 L181.9 53.2 L182.4 52.6 L182.9 51.9 L183.4 51.2 L183.9 50.4 L184.4 49.6 L184.9 48.8 L185.4 48.0 L185.9 47.2 L186.4 46.5 L186.9 45.9 L187.4 45.3 L187.9 44.8 L188.4 44.5 L188.9 44.3 L189.4 44.3 L189.9 44.4 L190.4 44.6 L190.9 45.0 L191.4 45.5 L191.9 46.1 L192.4 46.8 L192.9 47.6 L193.4 48.4 L193.9 49.3 L194.4 50.2 L194.9 51.1 L195.4 52.0 L195.9 53.0 L196.4 53.9 L196.9 54.8 L197.4 55.6 L197.9 56.4 L198.4 57.1 L198.9 57.7 L199.4 58.3 L199.9 58.7 L200.4 59.0 L200.9 59.2 L201.4 59.2 L201.9 59.2 L202.4 59.0 L202.9 58.7 L203.4 58.4 L203.9 58.0 L204.4 57.6 L204.9 57.1 L205.4 56.6 L205.9 56.0 L206.4 55.5 L206.9 54.9 L207.4 54.4 L207.9 53.8 L208.4 53.0 L208.9 52.2 L209.4 51.2 L209.9 50.2 L210.4 49.2 L210.9 48.1 L211.4 47.0 L211.9 46.0 L212.4 45.1 L212.9 44.2 L213.4 43.4 L213.9 42.8 L214.4 42.2 L214.9 41.6 L215.4 41.0 L215.9 40.4 L216.4 39.9 L216.9 39.4 L217.4 38.9 L217.9 38.6 L218.4 38.3 L218.9 38.1 L219.4 38.0 L219.9 38.0 L220.4 38.1 L220.9 38.3 L221.4 38.5 L221.9 38.8 L222.4 39.2 L222.9 39.5 L223.4 39.9 L223.9 40.4 L224.4 40.8 L224.9 41.3 L225.4 41.7 L225.9 42.1 L226.4 42.5 L226.9 42.9 L227.4 43.3 L227.9 43.6 L228.4 43.9 L228.9 44.1 L229.4 44.2 L229.9 44.2 L230.4 44.2 L230.9 43.9 L231.4 43.4 L231.9 42.8 L232.4 42.1 L232.9 41.3 L233.4 40.4 L233.9 39.4 L234.4 38.5 L234.9 37.6 L235.4 36.7 L235.9 36.0 L236.4 35.3 L236.9 34.8 L237.4 34.4 L237.9 34.3 L238.4 34.3 L238.9 34.7 L239.4 35.2 L239.9 36.0 L240.4 36.8 L240.9 37.8 L241.4 38.9 L241.9 39.9 L242.4 41.0 L242.9 42.0 L243.4 42.9 L243.9 43.7 L244.4 44.4 L244.9 44.8 L245.4 45.0 L245.9 44.9 L246.4 44.5 L246.9 43.9 L247.4 43.0 L247.9 41.9 L248.4 40.7 L248.9 39.4 L249.4 38.0 L249.9 36.5 L250.4 35.1 L250.9 33.7 L251.4 32.3 L251.9 31.0 L252.4 29.9 L252.9 29.0 L253.4 28.2 L253.9 27.7 L254.4 27.5 L254.9 27.5 L255.4 27.6 L255.9 27.8 L256.4 28.0 L256.9 28.2 L257.4 28.5 L257.9 28.9 L258.4 29.3 L258.9 29.7 L259.4 30.1 L259.9 30.5 L260.4 31.0 L260.9 31.4 L261.4 31.9 L261.9 32.4 L262.4 33.0 L262.9 33.7 L263.4 34.4 L263.9 35.2 L264.4 36.0 L264.9 36.8 L265.4 37.7 L265.9 38.6 L266.4 39.5 L266.9 40.7 L267.4 42.0 L267.9 43.5 L268.4 45.0 L268.9 46.7 L269.4 48.3 L269.9 49.8 L270.4 51.2 L270.9 52.4 L271.4 53.3 L271.9 54.0 L272.4 54.2 L272.9 54.1 L273.4 53.6 L273.9 52.8 L274.4 51.7 L274.9 50.5 L275.4 49.2 L275.9 48.0 L276.4 46.9 L276.9 46.0 L277.4 45.3 L277.9 45.0 L278.4 45.0 L278.9 45.2 L279.4 45.5 L279.9 45.8 L280.4 46.3 L280.9 46.8 L281.4 47.3 L281.9 47.9 L282.4 48.6 L282.9 49.2 L283.4 49.8 L283.9 50.4 L284.4 51.0 L284.9 51.5 L285.4 52.0 L285.9 52.4 L286.4 52.7 L286.9 52.9 L287.4 53.0 L287.9 53.0 L288.4 52.8 L288.9 52.5 L289.4 52.2 L289.9 51.8 L290.4 51.3 L290.9 50.8 L291.4 50.4 L291.9 49.9 L292.4 49.4 L292.9 49.0 L293.4 48.6 L293.9 48.3 L294.4 48.1 L294.9 48.0 L295.4 48.0 L295.9 48.1 L296.4 48.3 L296.9 48.5 L297.4 48.8 L297.9 49.2 L298.4 49.6 L298.9 50.0 L299.4 50.5 L299.9 51.0 L300.4 51.5 L300.9 52.0 L301.4 52.5 L301.9 53.1 L302.4 53.6 L302.9 54.1 L303.4 54.5 L303.9 55.0 L304.4 55.4 L304.9 55.8 L305.4 56.1 L305.9 56.4 L306.4 56.6 L306.9 56.7 L307.4 56.7 L307.9 56.7 L308.4 56.6 L308.9 56.4 L309.4 56.1 L309.9 55.7 L310.4 55.3 L310.9 54.8 L311.4 54.3 L311.9 53.8 L312.4 53.2 L312.9 52.6 L313.4 52.1 L313.9 51.5 L314.4 50.9 L314.9 50.4 L315.4 49.9 L315.9 49.4 L316.4 49.0 L316.9 48.6 L317.4 48.3 L317.9 48.1 L318.4 48.0 L318.9 48.0 L319.4 48.0 L319.9 48.1 L320.4 48.2 L320.9 48.3 L321.4 48.5 L321.9 48.6 L322.4 48.8 L322.9 49.0 L323.4 49.1 L323.9 49.3 L324.4 49.5 L324.9 49.7 L325.4 50.0 L325.9 50.2 L326.4 50.5 L326.9 50.8 L327.4 51.0 L327.9 51.2 L328.4 51.4 L328.9 51.6 L329.4 51.7 L329.9 51.7 L330.4 51.6 L330.9 51.2 L331.4 50.4 L331.9 49.5 L332.4 48.4 L332.9 47.3 L333.4 46.2 L333.9 45.2 L334.4 44.1 L334.9 42.8 L335.4 41.5 L335.9 40.2 L336.4 38.9 L336.9 37.8 L337.4 36.9 L337.9 36.2 L338.4 35.4 L338.9 34.7 L339.4 34.0 L339.9 33.3 L340.4 32.7 L340.9 32.1 L341.4 31.7 L341.9 31.3 L342.4 31.1 L342.9 31.0 L343.4 31.1 L343.9 31.4 L344.4 32.0 L344.9 32.7 L345.4 33.6 L345.9 34.5 L346.4 35.6 L346.9 36.7 L347.4 37.8 L347.9 39.0 L348.4 40.6 L348.9 42.4 L349.4 44.4 L349.9 46.3 L350.4 48.1 L350.9 49.7 L351.4 50.8 L351.9 51.9 L352.4 52.9 L352.9 54.0 L353.4 54.9 L353.9 55.8 L354.4 56.6 L354.9 57.2 L355.4 57.7 L355.9 57.9 L356.4 58.0 L356.9 57.8 L357.4 57.4 L357.9 56.8 L358.4 56.1 L358.9 55.2 L359.4 54.3 L359.9 53.3 L360.4 52.2 L360.9 51.2 L361.4 50.2 L361.9 49.0 L362.4 47.6 L362.9 46.1 L363.4 44.4 L363.9 42.8 L364.4 41.1 L364.9 39.4 L365.4 37.8 L365.9 36.4 L366.4 35.1 L366.9 33.8 L367.4 32.4 L367.9 31.1 L368.4 29.8 L368.9 28.6 L369.4 27.7 L369.9 27.0 L370.4 26.8 L370.9 26.8 L371.4 27.1 L371.9 27.7 L372.4 28.3 L372.9 29.1 L373.4 30.0 L373.9 30.9 L374.4 31.9 L374.9 32.8 L375.4 33.8 L375.9 34.9 L376.4 36.1 L376.9 37.5 L377.4 38.9 L377.9 40.3 L378.4 41.7 L378.9 43.0 L379.4 44.2 L379.9 45.3 L380.4 46.3 L380.9 47.4 L381.4 48.4 L381.9 49.5 L382.4 50.5 L382.9 51.5 L383.4 52.4 L383.9 53.1 L384.4 53.7 L384.9 54.1 L385.4 54.2 L385.9 54.2 L386.4 53.9 L386.9 53.4 L387.4 52.7 L387.9 51.9 L388.4 50.9 L388.9 49.8 L389.4 48.5 L389.9 47.2 L390.4 45.8 L390.9 44.3 L391.4 42.8 L391.9 41.2 L392.4 39.7 L392.9 38.1 L393.4 36.6 L393.9 35.0 L394.4 33.6 L394.9 32.2 L395.4 31.0 L395.9 29.8 L396.4 28.7 L396.9 27.8 L397.4 27.1 L397.9 26.5 L398.4 26.2 L398.9 26.0 L399.4 26.1 L399.9 26.5 L400.4 27.1 L400.9 28.0 L401.4 29.0 L401.9 30.2 L402.4 31.5 L402.9 32.8 L403.4 34.1 L403.9 35.4 L404.4 36.7 L404.9 37.8 L405.4 38.9 L405.9 40.1 L406.4 41.4 L406.9 42.8 L407.4 44.2 L407.9 45.6 L408.4 47.0 L408.9 48.4 L409.4 49.6 L409.9 50.7 L410.4 51.6 L410.9 52.3 L411.4 52.8 L411.9 53.0 L412.4 52.8 L412.9 52.1 L413.4 50.9 L413.9 49.4 L414.4 47.6 L414.9 45.6 L415.4 43.5 L415.9 41.3 L416.4 39.3 L416.9 37.4 L417.4 35.8 L417.9 34.3 L418.4 32.8 L418.9 31.2 L419.4 29.5 L419.9 27.8 L420.4 26.2 L420.9 24.6 L421.4 23.0 L421.9 21.6 L422.4 20.3 L422.9 19.1 L423.4 18.2 L423.9 17.5 L424.4 17.0 L424.9 16.8 L425.4 16.9 L425.9 17.5 L426.4 18.6 L426.9 19.9 L427.4 21.5 L427.9 23.2 L428.4 25.1 L428.9 26.9 L429.4 28.6 L429.9 30.2 L430.4 31.7 L430.9 33.3 L431.4 34.9 L431.9 36.6 L432.4 38.4 L432.9 40.1 L433.4 41.8 L433.9 43.4 L434.4 44.9 L434.9 46.3 L435.4 47.6 L435.9 48.6 L436.4 49.5 L436.9 50.3 L437.4 51.1 L437.9 51.9 L438.4 52.7 L438.9 53.3 L439.4 53.9 L439.9 54.4 L440.4 54.8 L440.9 55.0 L441.4 55.0 L441.9 54.8 L442.4 54.3 L442.9 53.6 L443.4 52.7 L443.9 51.7 L444.4 50.6 L444.9 49.4 L445.4 48.1 L445.9 46.8 L446.4 45.6 L446.9 44.3 L447.4 43.2 L447.9 42.1 L448.4 40.9 L448.9 39.5 L449.4 38.0 L449.9 36.5 L450.4 34.9 L450.9 33.4 L451.4 31.8 L451.9 30.4 L452.4 29.0 L452.9 27.7 L453.4 26.6 L453.9 25.7 L454.4 24.9 L454.9 24.5 L455.4 24.3 L455.9 24.4 L456.4 24.8 L456.9 25.5 L457.4 26.5 L457.9 27.7 L458.4 29.0 L458.9 30.5 L459.4 32.1 L459.9 33.7 L460.4 35.3 L460.9 36.9 L461.4 38.5 L461.9 40.3 L462.4 42.4 L462.9 44.6 L463.4 47.0 L463.9 49.4 L464.4 51.7 L464.9 53.9 L465.4 55.7 L465.9 57.2 L466.4 58.3 L466.9 59.2 L467.4 60.1 L467.9 61.0 L468.4 61.8 L468.9 62.6 L469.4 63.4 L469.9 64.2 L470.4 64.9 L470.9 65.5 L471.4 66.1 L471.9 66.7 L472.4 67.2 L472.9 67.7 L473.4 68.1 L473.9 68.5 L474.4 68.8 L474.9 69.0 L475.4 69.1 L475.9 69.2 L476.4 69.2 L476.9 69.2 L477.4 69.1 L477.9 68.9 L478.4 68.7 L478.9 68.4 L479.4 68.1 L479.9 67.8 L480.4 67.4 L480.9 67.0 L481.4 66.5 L481.9 66.1 L482.4 65.6 L482.9 65.1 L483.4 64.6 L483.9 64.1 L484.4 63.5 L484.9 62.7 L485.4 61.8 L485.9 60.8 L486.4 59.8 L486.9 58.7 L487.4 57.7 L487.9 56.8 L488.4 56.0 L488.9 55.3 L489.4 54.6 L489.9 53.9 L490.4 53.2 L490.9 52.5 L491.4 51.9 L491.9 51.5 L492.4 51.1 L492.9 51.0 L493.4 51.1 L493.9 51.3 L494.4 51.8 L494.9 52.3 L495.4 53.0 L495.9 53.7 L496.4 54.5 L496.9 55.4 L497.4 56.2 L497.9 56.9 L498.4 57.6 L498.9 58.2 L499.4 58.8 L499.9 59.4 L500.4 60.1 L500.9 60.7 L501.4 61.4 L501.9 62.0 L502.4 62.6 L502.9 63.1 L503.4 63.6 L503.9 63.9 L504.4 64.1 L504.9 64.2 L505.4 64.2 L505.9 63.9 L506.4 63.4 L506.9 62.7 L507.4 61.9 L507.9 61.0 L508.4 60.1 L508.9 59.1 L509.4 58.2 L509.9 57.2 L510.4 56.1 L510.9 54.8 L511.4 53.5 L511.9 52.0 L512.4 50.5 L512.8 49.3"/>
<path id="ml_b_a7" d="M36.4 103.0 L36.9 106.2 L37.4 109.2 L37.9 112.0 L38.4 114.5 L38.9 116.9 L39.4 119.0 L39.9 120.9 L40.4 122.4 L40.9 123.7 L41.4 124.6 L41.9 125.2 L42.4 125.5 L42.9 125.4 L43.4 125.0 L43.9 124.4 L44.4 123.6 L44.9 122.5 L45.4 121.4 L45.9 120.1 L46.4 118.8 L46.9 117.5 L47.4 116.2 L47.9 114.9 L48.4 113.7 L48.9 112.7 L49.4 111.6 L49.9 110.3 L50.4 109.0 L50.9 107.6 L51.4 106.3 L51.9 104.9 L52.4 103.6 L52.9 102.4 L53.4 101.2 L53.9 100.3 L54.4 99.5 L54.9 98.9 L55.4 98.6 L55.9 98.6 L56.4 99.6 L56.9 101.7 L57.4 104.6 L57.9 107.9 L58.4 111.3 L58.9 114.6 L59.4 117.5 L59.9 120.1 L60.4 122.9 L60.9 125.9 L61.4 128.6 L61.9 131.0 L62.4 132.7 L62.9 133.5 L63.4 133.1 L63.9 131.6 L64.4 129.2 L64.9 126.1 L65.4 122.4 L65.9 118.4 L66.4 114.3 L66.9 110.2 L67.4 106.3 L67.9 103.0 L68.4 100.2 L68.9 98.4 L69.4 97.5 L69.9 97.8 L70.4 99.0 L70.9 101.0 L71.4 103.6 L71.9 106.7 L72.4 110.0 L72.9 113.6 L73.4 117.0 L73.9 120.4 L74.4 123.4 L74.9 125.9 L75.4 127.9 L75.9 129.0 L76.4 129.2 L76.9 129.0 L77.4 128.4 L77.9 127.6 L78.4 126.7 L78.9 125.7 L79.4 124.6 L79.9 123.6 L80.4 122.8 L80.9 122.1 L81.4 121.6 L81.9 121.3 L82.4 121.0 L82.9 120.7 L83.4 120.4 L83.9 120.2 L84.4 120.0 L84.9 119.8 L85.4 119.6 L85.9 119.5 L86.4 119.3 L86.9 119.1 L87.4 118.9 L87.9 118.7 L88.4 118.4 L88.9 118.2 L89.4 117.9 L89.9 117.6 L90.4 117.2 L90.9 116.6 L91.4 116.0 L91.9 115.3 L92.4 114.5 L92.9 113.7 L93.4 112.8 L93.9 112.0 L94.4 111.1 L94.9 110.3 L95.4 109.6 L95.9 108.9 L96.4 108.4 L96.9 107.9 L97.4 107.6 L97.9 107.5 L98.4 107.6 L98.9 107.9 L99.4 108.5 L99.9 109.3 L100.4 110.1 L100.9 111.1 L101.4 112.0 L101.9 113.0 L102.4 113.8 L102.9 114.5 L103.4 115.1 L103.9 115.4 L104.4 115.5 L104.9 115.1 L105.4 114.3 L105.9 113.3 L106.4 112.0 L106.9 110.5 L107.4 109.1 L107.9 107.7 L108.4 106.4 L108.9 105.3 L109.4 104.6 L109.9 104.3 L110.4 104.5 L110.9 105.4 L111.4 106.8 L111.9 108.7 L112.4 110.8 L112.9 113.2 L113.4 115.6 L113.9 117.9 L114.4 120.0 L114.9 121.9 L115.4 123.2 L115.9 124.1 L116.4 124.2 L116.9 123.9 L117.4 123.2 L117.9 122.3 L118.4 121.1 L118.9 119.8 L119.4 118.5 L119.9 117.3 L120.4 116.1 L120.9 115.2 L121.4 114.6 L121.9 114.3 L122.4 114.4 L122.9 115.1 L123.4 116.3 L123.9 117.7 L124.4 119.3 L124.9 121.0 L125.4 122.7 L125.9 124.2 L126.4 125.5 L126.9 126.3 L127.4 126.7 L127.9 126.5 L128.4 125.7 L128.9 124.4 L129.4 122.7 L129.9 120.5 L130.4 118.2 L130.9 115.6 L131.4 112.9 L131.9 110.2 L132.4 107.6 L132.9 105.1 L133.4 102.9 L133.9 101.0 L134.4 99.5 L134.9 98.5 L135.4 98.0 L135.9 98.1 L136.4 98.7 L136.9 99.5 L137.4 100.6 L137.9 101.9 L138.4 103.2 L138.9 104.7 L139.4 106.1 L139.9 107.4 L140.4 108.6 L140.9 109.5 L141.4 110.2 L141.9 110.5 L142.4 110.3 L142.9 109.7 L143.4 108.8 L143.9 107.6 L144.4 106.2 L144.9 104.8 L145.4 103.4 L145.9 102.1 L146.4 101.1 L146.9 100.3 L147.4 100.0 L147.9 100.2 L148.4 100.8 L148.9 101.8 L149.4 103.2 L149.9 104.9 L150.4 106.7 L150.9 108.7 L151.4 110.8 L151.9 112.9 L152.4 115.0 L152.9 116.9 L153.4 118.7 L153.9 120.2 L154.4 121.3 L154.9 122.1 L155.4 122.5 L155.9 122.2 L156.4 121.3 L156.9 119.7 L157.4 117.7 L157.9 115.3 L158.4 112.7 L158.9 110.1 L159.4 107.4 L159.9 105.0 L160.4 102.8 L160.9 101.0 L161.4 99.8 L161.9 99.3 L162.4 99.6 L162.9 100.8 L163.4 102.7 L163.9 105.1 L164.4 107.9 L164.9 110.7 L165.4 113.6 L165.9 116.2 L166.4 118.3 L166.9 119.8 L167.4 120.5 L167.9 120.3 L168.4 119.3 L168.9 117.9 L169.4 116.0 L169.9 113.9 L170.4 111.7 L170.9 109.5 L171.4 107.6 L171.9 105.9 L172.4 104.8 L172.9 104.3 L173.4 104.4 L173.9 104.9 L174.4 105.8 L174.9 107.0 L175.4 108.3 L175.9 109.8 L176.4 111.3 L176.9 112.8 L177.4 114.2 L177.9 115.5 L178.4 116.5 L178.9 117.2 L179.4 117.5 L179.9 117.4 L180.4 116.9 L180.9 116.2 L181.4 115.4 L181.9 114.5 L182.4 113.7 L182.9 113.0 L183.4 112.6 L183.9 112.5 L184.4 112.7 L184.9 113.1 L185.4 113.8 L185.9 114.5 L186.4 115.5 L186.9 116.5 L187.4 117.6 L187.9 118.7 L188.4 119.9 L188.9 121.0 L189.4 122.1 L189.9 123.1 L190.4 124.0 L190.9 124.8 L191.4 125.4 L191.9 125.8 L192.4 126.0 L192.9 125.9 L193.4 125.6 L193.9 125.0 L194.4 124.3 L194.9 123.4 L195.4 122.3 L195.9 121.2 L196.4 120.0 L196.9 118.8 L197.4 117.6 L197.9 116.4 L198.4 115.3 L198.9 114.3 L199.4 113.4 L199.9 112.7 L200.4 112.1 L200.9 111.8 L201.4 111.8 L201.9 112.0 L202.4 112.3 L202.9 112.7 L203.4 112.9 L203.9 113.0 L204.4 112.4 L204.9 111.4 L205.4 109.9 L205.9 108.3 L206.4 106.5 L206.9 104.7 L207.4 103.2 L207.9 101.9 L208.4 101.2 L208.9 101.0 L209.4 101.8 L209.9 103.3 L210.4 105.5 L210.9 108.3 L211.4 111.5 L211.9 114.9 L212.4 118.5 L212.9 122.2 L213.4 125.7 L213.9 129.0 L214.4 131.9 L214.9 134.4 L215.4 136.2 L215.9 137.3 L216.4 137.5 L216.9 137.0 L217.4 135.9 L217.9 134.3 L218.4 132.3 L218.9 130.0 L219.4 127.5 L219.9 124.8 L220.4 122.0 L220.9 119.2 L221.4 116.5 L221.9 114.0 L222.4 111.7 L222.9 109.8 L223.4 108.2 L223.9 107.2 L224.4 106.8 L224.9 107.1 L225.4 108.1 L225.9 109.6 L226.4 111.1 L226.9 112.4 L227.4 113.0 L227.9 112.7 L228.4 111.8 L228.9 110.2 L229.4 108.4 L229.9 106.4 L230.4 104.5 L230.9 102.8 L231.4 101.6 L231.9 101.0 L232.4 101.2 L232.9 101.9 L233.4 103.2 L233.9 104.8 L234.4 106.6 L234.9 108.7 L235.4 110.9 L235.9 113.0 L236.4 115.1 L236.9 116.9 L237.4 118.5 L237.9 119.7 L238.4 120.3 L238.9 120.5 L239.4 119.9 L239.9 118.6 L240.4 116.8 L240.9 114.6 L241.4 112.1 L241.9 109.5 L242.4 106.8 L242.9 104.1 L243.4 101.6 L243.9 99.5 L244.4 97.7 L244.9 96.5 L245.4 96.0 L245.9 96.3 L246.4 97.2 L246.9 98.8 L247.4 100.9 L247.9 103.3 L248.4 106.1 L248.9 108.9 L249.4 111.8 L249.9 114.6 L250.4 117.2 L250.9 119.4 L251.4 121.2 L251.9 122.4 L252.4 123.0 L252.9 122.9 L253.4 122.6 L253.9 122.1 L254.4 121.4 L254.9 120.6 L255.4 119.6 L255.9 118.6 L256.4 117.4 L256.9 116.3 L257.4 115.2 L257.9 114.0 L258.4 113.0 L258.9 112.0 L259.4 111.1 L259.9 110.3 L260.4 109.8 L260.9 109.4 L261.4 109.2 L261.9 109.1 L262.4 109.0 L262.9 109.0 L263.4 108.9 L263.9 108.9 L264.4 108.8 L264.9 108.8 L265.4 108.7 L265.9 108.7 L266.4 108.6 L266.9 108.6 L267.4 108.5 L267.9 108.4 L268.4 108.4 L268.9 108.3 L269.4 108.2 L269.9 108.1 L270.4 108.0 L270.9 108.0 L271.4 108.0 L271.9 108.2 L272.4 108.7 L272.9 109.4 L273.4 110.2 L273.9 111.2 L274.4 112.3 L274.9 113.4 L275.4 114.5 L275.9 115.6 L276.4 116.6 L276.9 117.5 L277.4 118.3 L277.9 118.8 L278.4 119.2 L278.9 119.2 L279.4 118.7 L279.9 117.6 L280.4 116.1 L280.9 114.3 L281.4 112.4 L281.9 110.6 L282.4 109.0 L282.9 107.7 L283.4 106.9 L283.9 106.8 L284.4 107.6 L284.9 109.1 L285.4 111.2 L285.9 113.7 L286.4 116.3 L286.9 118.8 L287.4 121.1 L287.9 122.9 L288.4 124.0 L288.9 124.2 L289.4 123.9 L289.9 123.1 L290.4 122.1 L290.9 120.8 L291.4 119.2 L291.9 117.6 L292.4 115.8 L292.9 114.1 L293.4 112.4 L293.9 110.8 L294.4 109.4 L294.9 108.2 L295.4 107.4 L295.9 106.9 L296.4 106.8 L296.9 107.1 L297.4 107.9 L297.9 109.1 L298.4 110.5 L298.9 112.1 L299.4 113.9 L299.9 115.8 L300.4 117.6 L300.9 119.4 L301.4 121.1 L301.9 122.6 L302.4 123.9 L302.9 124.8 L303.4 125.4 L303.9 125.5 L304.4 124.9 L304.9 123.7 L305.4 122.1 L305.9 120.0 L306.4 117.8 L306.9 115.4 L307.4 113.0 L307.9 110.8 L308.4 108.8 L308.9 107.1 L309.4 106.0 L309.9 105.5 L310.4 105.7 L310.9 106.4 L311.4 107.7 L311.9 109.3 L312.4 111.2 L312.9 113.4 L313.4 115.7 L313.9 118.1 L314.4 120.4 L314.9 122.7 L315.4 124.7 L315.9 126.5 L316.4 127.9 L316.9 128.8 L317.4 129.2 L317.9 129.0 L318.4 128.1 L318.9 126.5 L319.4 124.4 L319.9 122.0 L320.4 119.3 L320.9 116.3 L321.4 113.4 L321.9 110.4 L322.4 107.6 L322.9 105.0 L323.4 102.8 L323.9 101.0 L324.4 99.8 L324.9 99.3 L325.4 99.4 L325.9 100.1 L326.4 101.1 L326.9 102.6 L327.4 104.3 L327.9 106.3 L328.4 108.5 L328.9 110.8 L329.4 113.1 L329.9 115.5 L330.4 117.7 L330.9 119.9 L331.4 121.9 L331.9 123.6 L332.4 125.0 L332.9 126.0 L333.4 126.6 L333.9 126.7 L334.4 126.2 L334.9 125.2 L335.4 123.9 L335.9 122.3 L336.4 120.6 L336.9 119.0 L337.4 117.5 L337.9 116.4 L338.4 115.7 L338.9 115.5 L339.4 115.9 L339.9 116.7 L340.4 117.7 L340.9 119.0 L341.4 120.3 L341.9 121.5 L342.4 122.7 L342.9 123.6 L343.4 124.1 L343.9 124.2 L344.4 123.8 L344.9 122.9 L345.4 121.7 L345.9 120.0 L346.4 118.2 L346.9 116.1 L347.4 113.9 L347.9 111.6 L348.4 109.4 L348.9 107.2 L349.4 105.1 L349.9 103.3 L350.4 101.7 L350.9 100.5 L351.4 99.6 L351.9 99.3 L352.4 99.3 L352.9 99.7 L353.4 100.3 L353.9 101.0 L354.4 101.9 L354.9 103.0 L355.4 104.1 L355.9 105.3 L356.4 106.4 L356.9 107.6 L357.4 108.6 L357.9 109.6 L358.4 110.4 L358.9 111.1 L359.4 111.5 L359.9 111.7 L360.4 111.6 L360.9 111.2 L361.4 110.6 L361.9 109.8 L362.4 109.1 L362.9 108.5 L363.4 108.1 L363.9 108.1 L364.4 109.0 L364.9 110.9 L365.4 113.6 L365.9 116.9 L366.4 120.6 L366.9 124.4 L367.4 128.3 L367.9 132.0 L368.4 135.2 L368.9 137.8 L369.4 139.7 L369.9 140.5 L370.4 140.2 L370.9 139.2 L371.4 137.5 L371.9 135.2 L372.4 132.4 L372.9 129.1 L373.4 125.6 L373.9 121.8 L374.4 117.9 L374.9 114.0 L375.4 110.1 L375.9 106.3 L376.4 102.8 L376.9 99.6 L377.4 96.8 L377.9 94.6 L378.4 92.9 L378.9 92.0 L379.4 91.8 L379.9 91.9 L380.4 92.1 L380.9 92.4 L381.4 92.8 L381.9 93.4 L382.4 94.0 L382.9 94.7 L383.4 95.4 L383.9 96.2 L384.4 97.1 L384.9 98.0 L385.4 98.9 L385.9 99.9 L386.4 100.9 L386.9 101.8 L387.4 102.8 L387.9 103.8 L388.4 104.9 L388.9 106.0 L389.4 107.3 L389.9 108.7 L390.4 110.2 L390.9 111.8 L391.4 113.6 L391.9 115.5 L392.4 117.6 L392.9 120.3 L393.4 124.4 L393.9 129.4 L394.4 134.8 L394.9 139.9 L395.4 144.4 L395.9 147.7 L396.4 149.2 L396.9 148.9 L397.4 147.8 L397.9 145.8 L398.4 143.1 L398.9 139.8 L399.4 136.0 L399.9 131.7 L400.4 127.3 L400.9 122.6 L401.4 117.8 L401.9 113.0 L402.4 108.3 L402.9 103.8 L403.4 99.6 L403.9 95.9 L404.4 92.6 L404.9 90.0 L405.4 88.1 L405.9 87.0 L406.4 86.8 L406.9 87.3 L407.4 88.3 L407.9 89.6 L408.4 91.2 L408.9 92.9 L409.4 94.5 L409.9 96.0 L410.4 97.1 L410.9 97.8 L411.4 98.0 L411.9 97.7 L412.4 97.0 L412.9 96.1 L413.4 95.0 L413.9 93.9 L414.4 92.8 L414.9 91.8 L415.4 91.1 L415.9 90.6 L416.4 90.6 L416.9 91.4 L417.4 93.3 L417.9 96.1 L418.4 99.6 L418.9 103.7 L419.4 108.2 L419.9 113.1 L420.4 118.2 L420.9 123.3 L421.4 128.4 L421.9 133.2 L422.4 137.8 L422.9 141.8 L423.4 145.2 L423.9 147.9 L424.4 149.7 L424.9 150.5 L425.4 150.1 L425.9 148.7 L426.4 146.4 L426.9 143.3 L427.4 139.4 L427.9 135.0 L428.4 130.2 L428.9 125.0 L429.4 119.6 L429.9 114.1 L430.4 108.7 L430.9 103.4 L431.4 98.4 L431.9 93.8 L432.4 89.7 L432.9 86.3 L433.4 83.6 L433.9 81.8 L434.4 81.0 L434.9 81.3 L435.4 82.4 L435.9 84.3 L436.4 86.7 L436.9 89.5 L437.4 92.7 L437.9 95.9 L438.4 99.2 L438.9 102.3 L439.4 105.1 L439.9 107.4 L440.4 109.2 L440.9 110.3 L441.4 110.5 L441.9 109.7 L442.4 108.1 L442.9 105.9 L443.4 103.3 L443.9 100.3 L444.4 97.4 L444.9 94.5 L445.4 91.9 L445.9 89.7 L446.4 88.2 L446.9 87.5 L447.4 87.7 L447.9 88.6 L448.4 90.1 L448.9 92.1 L449.4 94.5 L449.9 97.2 L450.4 100.3 L450.9 103.5 L451.4 106.9 L451.9 110.2 L452.4 113.6 L452.9 116.8 L453.4 119.8 L453.9 122.5 L454.4 124.9 L454.9 126.8 L455.4 128.3 L455.9 129.1 L456.4 129.2 L456.9 128.8 L457.4 127.8 L457.9 126.5 L458.4 124.8 L458.9 123.0 L459.4 121.0 L459.9 119.1 L460.4 117.3 L460.9 115.6 L461.4 114.3 L461.9 113.4 L462.4 113.0 L462.9 113.2 L463.4 113.9 L463.9 114.9 L464.4 116.2 L464.9 117.7 L465.4 119.2 L465.9 120.6 L466.4 121.8 L466.9 122.6 L467.4 123.0 L467.9 122.8 L468.4 122.2 L468.9 121.1 L469.4 119.6 L469.9 117.8 L470.4 115.8 L470.9 113.6 L471.4 111.3 L471.9 108.9 L472.4 106.5 L472.9 104.2 L473.4 102.0 L473.9 100.0 L474.4 98.2 L474.9 96.8 L475.4 95.7 L475.9 95.1 L476.4 95.0 L476.9 95.8 L477.4 97.4 L477.9 99.6 L478.4 102.6 L478.9 106.0 L479.4 109.8 L479.9 113.9 L480.4 118.2 L480.9 122.6 L481.4 126.9 L481.9 131.1 L482.4 135.0 L482.9 138.6 L483.4 141.8 L483.9 144.3 L484.4 146.2 L484.9 147.3 L485.4 147.5 L485.9 147.0 L486.4 145.9 L486.9 144.4 L487.4 142.4 L487.9 140.0 L488.4 137.2 L488.9 134.3 L489.4 131.0 L489.9 127.7 L490.4 124.2 L490.9 120.7 L491.4 117.2 L491.9 113.8 L492.4 110.5 L492.9 107.4 L493.4 104.6 L493.9 102.0 L494.4 99.9 L494.9 98.1 L495.4 96.9 L495.9 96.2 L496.4 96.0 L496.9 96.4 L497.4 97.2 L497.9 98.3 L498.4 99.6 L498.9 101.2 L499.4 103.0 L499.9 104.8 L500.4 106.6 L500.9 108.3 L501.4 110.0 L501.9 111.5 L502.4 112.7 L502.9 113.6 L503.4 114.1 L503.9 114.2 L504.4 114.0 L504.9 113.5 L505.4 112.7 L505.9 111.9 L506.4 110.8 L506.9 109.7 L507.4 108.6 L507.9 107.6 L508.4 106.6 L508.9 105.7 L509.4 105.0 L509.9 104.5 L510.4 104.3 L510.9 104.4 L511.4 104.7 L511.9 105.3 L512.4 106.1 L512.8 106.8"/>
<path id="ml_c_a1" d="M36.4 40.0 L36.9 39.0 L37.4 38.1 L37.9 37.3 L38.4 36.5 L38.9 35.8 L39.4 35.3 L39.9 34.8 L40.4 34.5 L40.9 34.3 L41.4 34.3 L41.9 34.4 L42.4 34.6 L42.9 34.9 L43.4 35.3 L43.9 35.7 L44.4 36.1 L44.9 36.5 L45.4 36.9 L45.9 37.2 L46.4 37.4 L46.9 37.5 L47.4 37.5 L47.9 37.3 L48.4 37.0 L48.9 36.7 L49.4 36.3 L49.9 36.0 L50.4 35.6 L50.9 35.3 L51.4 35.1 L51.9 35.0 L52.4 35.1 L52.9 35.5 L53.4 36.2 L53.9 37.1 L54.4 38.1 L54.9 39.2 L55.4 40.2 L55.9 41.2 L56.4 42.0 L56.9 42.9 L57.4 43.8 L57.9 44.8 L58.4 45.8 L58.9 46.7 L59.4 47.6 L59.9 48.3 L60.4 48.9 L60.9 49.2 L61.4 49.2 L61.9 49.2 L62.4 49.0 L62.9 48.8 L63.4 48.5 L63.9 48.2 L64.4 47.9 L64.9 47.5 L65.4 47.2 L65.9 46.9 L66.4 46.5 L66.9 46.3 L67.4 46.0 L67.9 45.9 L68.4 45.7 L68.9 45.5 L69.4 45.3 L69.9 45.1 L70.4 44.9 L70.9 44.8 L71.4 44.6 L71.9 44.5 L72.4 44.4 L72.9 44.3 L73.4 44.3 L73.9 44.3 L74.4 44.3 L74.9 44.5 L75.4 44.8 L75.9 45.2 L76.4 45.6 L76.9 46.1 L77.4 46.6 L77.9 47.1 L78.4 47.6 L78.9 48.2 L79.4 48.8 L79.9 49.6 L80.4 50.5 L80.9 51.4 L81.4 52.4 L81.9 53.4 L82.4 54.4 L82.9 55.3 L83.4 56.2 L83.9 57.0 L84.4 57.8 L84.9 58.6 L85.4 59.5 L85.9 60.4 L86.4 61.2 L86.9 62.0 L87.4 62.7 L87.9 63.3 L88.4 63.8 L88.9 64.1 L89.4 64.2 L89.9 64.1 L90.4 63.6 L90.9 62.8 L91.4 61.9 L91.9 60.9 L92.4 59.9 L92.9 59.0 L93.4 58.3 L93.9 57.9 L94.4 57.6 L94.9 57.4 L95.4 57.1 L95.9 56.9 L96.4 56.7 L96.9 56.5 L97.4 56.4 L97.9 56.3 L98.4 56.3 L98.9 56.3 L99.4 56.3 L99.9 56.4 L100.4 56.5 L100.9 56.6 L101.4 56.6 L101.9 56.7 L102.4 56.7 L102.9 56.7 L103.4 56.3 L103.9 55.7 L104.4 55.0 L104.9 54.1 L105.4 53.2 L105.9 52.2 L106.4 51.2 L106.9 50.2 L107.4 49.4 L107.9 48.6 L108.4 47.8 L108.9 46.9 L109.4 46.1 L109.9 45.2 L110.4 44.4 L110.9 43.6 L111.4 42.9 L111.9 42.3 L112.4 41.8 L112.9 41.5 L113.4 41.2 L113.9 40.9 L114.4 40.7 L114.9 40.5 L115.4 40.3 L115.9 40.1 L116.4 39.9 L116.9 39.6 L117.4 39.3 L117.9 38.9 L118.4 38.4 L118.9 37.9 L119.4 37.3 L119.9 36.6 L120.4 35.9 L120.9 35.2 L121.4 34.5 L121.9 33.8 L122.4 33.1 L122.9 32.5 L123.4 31.7 L123.9 30.9 L124.4 30.1 L124.9 29.4 L125.4 28.9 L125.9 28.6 L126.4 28.5 L126.9 28.7 L127.4 29.2 L127.9 29.8 L128.4 30.6 L128.9 31.5 L129.4 32.4 L129.9 33.3 L130.4 34.2 L130.9 35.0 L131.4 35.7 L131.9 36.4 L132.4 37.1 L132.9 37.9 L133.4 38.7 L133.9 39.5 L134.4 40.3 L134.9 41.0 L135.4 41.6 L135.9 42.2 L136.4 42.7 L136.9 43.1 L137.4 43.4 L137.9 43.5 L138.4 43.5 L138.9 43.3 L139.4 43.1 L139.9 42.8 L140.4 42.4 L140.9 42.0 L141.4 41.5 L141.9 41.0 L142.4 40.4 L142.9 39.9 L143.4 39.4 L143.9 38.9 L144.4 38.5 L144.9 38.1 L145.4 37.7 L145.9 37.3 L146.4 36.9 L146.9 36.4 L147.4 36.0 L147.9 35.6 L148.4 35.2 L148.9 34.9 L149.4 34.6 L149.9 34.4 L150.4 34.3 L150.9 34.3 L151.4 34.5 L151.9 34.9 L152.4 35.4 L152.9 36.1 L153.4 36.9 L153.9 37.7 L154.4 38.4 L154.9 39.1 L155.4 39.8 L155.9 40.6 L156.4 41.5 L156.9 42.4 L157.4 43.2 L157.9 43.8 L158.4 44.2 L158.9 44.2 L159.4 44.0 L159.9 43.7 L160.4 43.1 L160.9 42.4 L161.4 41.6 L161.9 40.7 L162.4 39.9 L162.9 39.0 L163.4 38.2 L163.9 37.4 L164.4 36.8 L164.9 36.3 L165.4 36.1 L165.9 36.0 L166.4 36.2 L166.9 36.7 L167.4 37.3 L167.9 38.1 L168.4 39.0 L168.9 40.0 L169.4 41.0 L169.9 42.0 L170.4 42.9 L170.9 43.7 L171.4 44.5 L171.9 45.2 L172.4 46.0 L172.9 46.8 L173.4 47.6 L173.9 48.4 L174.4 49.2 L174.9 50.0 L175.4 50.7 L175.9 51.4 L176.4 52.0 L176.9 52.6 L177.4 53.0 L177.9 53.3 L178.4 53.5 L178.9 53.5 L179.4 53.3 L179.9 53.0 L180.4 52.5 L180.9 51.9 L181.4 51.2 L181.9 50.5 L182.4 49.7 L182.9 49.0 L183.4 48.4 L183.9 47.8 L184.4 47.2 L184.9 46.6 L185.4 45.9 L185.9 45.3 L186.4 44.7 L186.9 44.2 L187.4 43.8 L187.9 43.6 L188.4 43.5 L188.9 43.7 L189.4 43.9 L189.9 44.4 L190.4 44.9 L190.9 45.5 L191.4 46.2 L191.9 46.9 L192.4 47.6 L192.9 48.2 L193.4 48.9 L193.9 49.4 L194.4 50.0 L194.9 50.7 L195.4 51.4 L195.9 52.1 L196.4 52.8 L196.9 53.5 L197.4 54.1 L197.9 54.7 L198.4 55.2 L198.9 55.6 L199.4 55.9 L199.9 56.0 L200.4 56.0 L200.9 55.9 L201.4 55.7 L201.9 55.4 L202.4 55.1 L202.9 54.7 L203.4 54.4 L203.9 53.9 L204.4 53.5 L204.9 53.1 L205.4 52.6 L205.9 52.0 L206.4 51.2 L206.9 50.4 L207.4 49.5 L207.9 48.5 L208.4 47.6 L208.9 46.6 L209.4 45.7 L209.9 44.8 L210.4 44.0 L210.9 43.4 L211.4 42.9 L211.9 42.3 L212.4 41.8 L212.9 41.3 L213.4 40.8 L213.9 40.4 L214.4 40.0 L214.9 39.6 L215.4 39.2 L215.9 38.9 L216.4 38.7 L216.9 38.6 L217.4 38.5 L217.9 38.5 L218.4 38.6 L218.9 38.7 L219.4 38.9 L219.9 39.1 L220.4 39.3 L220.9 39.6 L221.4 39.8 L221.9 40.1 L222.4 40.4 L222.9 40.6 L223.4 40.9 L223.9 41.1 L224.4 41.3 L224.9 41.5 L225.4 41.8 L225.9 42.1 L226.4 42.3 L226.9 42.6 L227.4 42.7 L227.9 42.9 L228.4 43.0 L228.9 43.0 L229.4 42.8 L229.9 42.5 L230.4 42.0 L230.9 41.4 L231.4 40.7 L231.9 40.0 L232.4 39.2 L232.9 38.5 L233.4 37.9 L233.9 37.3 L234.4 36.7 L234.9 36.1 L235.4 35.4 L235.9 34.9 L236.4 34.4 L236.9 34.3 L237.4 34.4 L237.9 34.9 L238.4 35.8 L238.9 36.8 L239.4 38.0 L239.9 39.2 L240.4 40.3 L240.9 41.2 L241.4 41.9 L241.9 42.6 L242.4 43.3 L242.9 43.9 L243.4 44.5 L243.9 45.0 L244.4 45.3 L244.9 45.5 L245.4 45.3 L245.9 44.5 L246.4 43.3 L246.9 41.8 L247.4 40.2 L247.9 38.7 L248.4 37.4 L248.9 36.5 L249.4 35.7 L249.9 34.9 L250.4 34.1 L250.9 33.4 L251.4 32.8 L251.9 32.2 L252.4 31.9 L252.9 31.8 L253.4 31.8 L253.9 32.0 L254.4 32.3 L254.9 32.7 L255.4 33.1 L255.9 33.6 L256.4 34.1 L256.9 34.5 L257.4 34.9 L257.9 35.3 L258.4 35.6 L258.9 35.9 L259.4 36.1 L259.9 36.4 L260.4 36.7 L260.9 37.1 L261.4 37.4 L261.9 37.9 L262.4 38.4 L262.9 39.1 L263.4 40.1 L263.9 41.4 L264.4 42.9 L264.9 44.4 L265.4 45.8 L265.9 47.2 L266.4 48.3 L266.9 49.5 L267.4 50.7 L267.9 51.9 L268.4 53.0 L268.9 54.1 L269.4 55.1 L269.9 56.0 L270.4 56.6 L270.9 56.9 L271.4 57.0 L271.9 56.7 L272.4 56.0 L272.9 55.2 L273.4 54.3 L273.9 53.3 L274.4 52.5 L274.9 51.8 L275.4 51.4 L275.9 50.9 L276.4 50.5 L276.9 50.0 L277.4 49.6 L277.9 49.3 L278.4 49.0 L278.9 48.7 L279.4 48.6 L279.9 48.5 L280.4 48.5 L280.9 48.6 L281.4 48.9 L281.9 49.1 L282.4 49.5 L282.9 49.9 L283.4 50.3 L283.9 50.8 L284.4 51.3 L284.9 51.8 L285.4 52.4 L285.9 52.9 L286.4 53.5 L286.9 54.0 L287.4 54.5 L287.9 55.0 L288.4 55.4 L288.9 55.8 L289.4 56.2 L289.9 56.4 L290.4 56.6 L290.9 56.7 L291.4 56.7 L291.9 56.7 L292.4 56.5 L292.9 56.2 L293.4 55.9 L293.9 55.4 L294.4 55.0 L294.9 54.5 L295.4 53.9 L295.9 53.4 L296.4 52.8 L296.9 52.3 L297.4 51.7 L297.9 51.2 L298.4 50.7 L298.9 50.3 L299.4 49.9 L299.9 49.6 L300.4 49.4 L300.9 49.3 L301.4 49.3 L301.9 49.3 L302.4 49.5 L302.9 49.7 L303.4 50.0 L303.9 50.3 L304.4 50.7 L304.9 51.1 L305.4 51.4 L305.9 51.8 L306.4 52.1 L306.9 52.4 L307.4 52.7 L307.9 52.9 L308.4 53.0 L308.9 53.0 L309.4 52.8 L309.9 52.5 L310.4 52.0 L310.9 51.4 L311.4 50.7 L311.9 50.0 L312.4 49.2 L312.9 48.4 L313.4 47.6 L313.9 46.8 L314.4 46.2 L314.9 45.6 L315.4 45.1 L315.9 44.6 L316.4 44.1 L316.9 43.5 L317.4 43.0 L317.9 42.5 L318.4 42.0 L318.9 41.6 L319.4 41.2 L319.9 40.9 L320.4 40.7 L320.9 40.5 L321.4 40.5 L321.9 40.6 L322.4 40.7 L322.9 41.0 L323.4 41.2 L323.9 41.6 L324.4 41.9 L324.9 42.3 L325.4 42.7 L325.9 43.0 L326.4 43.4 L326.9 43.7 L327.4 43.9 L327.9 44.1 L328.4 44.2 L328.9 44.2 L329.4 44.1 L329.9 43.8 L330.4 43.4 L330.9 42.9 L331.4 42.3 L331.9 41.7 L332.4 41.0 L332.9 40.4 L333.4 39.8 L333.9 39.3 L334.4 38.9 L334.9 38.6 L335.4 38.5 L335.9 38.6 L336.4 38.8 L336.9 39.1 L337.4 39.6 L337.9 40.2 L338.4 40.8 L338.9 41.5 L339.4 42.3 L339.9 43.0 L340.4 43.8 L340.9 44.5 L341.4 45.1 L341.9 45.7 L342.4 46.2 L342.9 46.5 L343.4 46.7 L343.9 46.7 L344.4 46.7 L344.9 46.5 L345.4 46.2 L345.9 45.9 L346.4 45.5 L346.9 45.1 L347.4 44.7 L347.9 44.4 L348.4 44.0 L348.9 43.8 L349.4 43.6 L349.9 43.5 L350.4 43.5 L350.9 43.7 L351.4 43.9 L351.9 44.1 L352.4 44.5 L352.9 44.9 L353.4 45.3 L353.9 45.8 L354.4 46.3 L354.9 46.8 L355.4 47.3 L355.9 47.8 L356.4 48.3 L356.9 48.7 L357.4 49.2 L357.9 49.6 L358.4 50.0 L358.9 50.6 L359.4 51.1 L359.9 51.6 L360.4 52.1 L360.9 52.6 L361.4 53.1 L361.9 53.5 L362.4 53.8 L362.9 54.1 L363.4 54.2 L363.9 54.2 L364.4 54.2 L364.9 54.1 L365.4 53.9 L365.9 53.8 L366.4 53.6 L366.9 53.4 L367.4 53.2 L367.9 53.0 L368.4 52.8 L368.9 52.6 L369.4 52.5 L369.9 52.5 L370.4 52.6 L370.9 52.8 L371.4 53.3 L371.9 53.8 L372.4 54.5 L372.9 55.3 L373.4 56.2 L373.9 57.1 L374.4 58.0 L374.9 59.0 L375.4 59.9 L375.9 60.8 L376.4 61.5 L376.9 62.2 L377.4 62.8 L377.9 63.2 L378.4 63.4 L378.9 63.5 L379.4 63.3 L379.9 62.8 L380.4 62.1 L380.9 61.2 L381.4 60.2 L381.9 59.1 L382.4 58.0 L382.9 56.8 L383.4 55.7 L383.9 54.7 L384.4 53.8 L384.9 53.1 L385.4 52.5 L385.9 51.9 L386.4 51.3 L386.9 50.7 L387.4 50.2 L387.9 49.6 L388.4 49.0 L388.9 48.5 L389.4 48.0 L389.9 47.5 L390.4 47.0 L390.9 46.6 L391.4 46.3 L391.9 46.0 L392.4 45.8 L392.9 45.6 L393.4 45.5 L393.9 45.5 L394.4 45.6 L394.9 45.7 L395.4 45.9 L395.9 46.1 L396.4 46.4 L396.9 46.6 L397.4 46.9 L397.9 47.1 L398.4 47.3 L398.9 47.4 L399.4 47.5 L399.9 47.4 L400.4 47.0 L400.9 46.4 L401.4 45.6 L401.9 44.6 L402.4 43.5 L402.9 42.2 L403.4 40.9 L403.9 39.6 L404.4 38.3 L404.9 37.0 L405.4 35.9 L405.9 34.8 L406.4 33.9 L406.9 33.2 L407.4 32.7 L407.9 32.5 L408.4 32.6 L408.9 32.8 L409.4 33.2 L409.9 33.7 L410.4 34.3 L410.9 35.0 L411.4 35.7 L411.9 36.5 L412.4 37.1 L412.9 37.8 L413.4 38.4 L413.9 38.8 L414.4 39.1 L414.9 39.2 L415.4 39.2 L415.9 39.1 L416.4 38.9 L416.9 38.6 L417.4 38.3 L417.9 38.0 L418.4 37.6 L418.9 37.3 L419.4 36.9 L419.9 36.5 L420.4 36.2 L420.9 35.9 L421.4 35.7 L421.9 35.6 L422.4 35.5 L422.9 35.6 L423.4 36.1 L423.9 36.9 L424.4 37.9 L424.9 39.0 L425.4 40.3 L425.9 41.7 L426.4 43.0 L426.9 44.2 L427.4 45.3 L427.9 46.3 L428.4 47.4 L428.9 48.5 L429.4 49.7 L429.9 50.9 L430.4 52.2 L430.9 53.4 L431.4 54.6 L431.9 55.8 L432.4 56.9 L432.9 58.0 L433.4 58.9 L433.9 59.8 L434.4 60.5 L434.9 61.0 L435.4 61.5 L435.9 61.7 L436.4 61.7 L436.9 61.6 L437.4 61.3 L437.9 60.9 L438.4 60.4 L438.9 59.8 L439.4 59.1 L439.9 58.3 L440.4 57.5 L440.9 56.7 L441.4 55.9 L441.9 55.0 L442.4 54.2 L442.9 53.4 L443.4 52.7 L443.9 52.1 L444.4 51.5 L444.9 51.1 L445.4 50.7 L445.9 50.5 L446.4 50.5 L446.9 50.6 L447.4 50.7 L447.9 50.8 L448.4 51.0 L448.9 51.3 L449.4 51.6 L449.9 51.9 L450.4 52.3 L450.9 52.7 L451.4 53.1 L451.9 53.9 L452.4 55.0 L452.9 56.4 L453.4 58.0 L453.9 59.7 L454.4 61.5 L454.9 63.4 L455.4 65.2 L455.9 66.9 L456.4 68.5 L456.9 70.1 L457.4 71.8 L457.9 73.7 L458.4 75.7 L458.9 77.6 L459.4 79.6 L459.9 81.5 L460.4 83.4 L460.9 85.2 L461.4 86.8 L461.9 88.3 L462.4 89.5 L462.9 90.5 L463.4 91.2 L463.9 91.7 L464.4 91.7 L464.9 91.5 L465.4 90.9 L465.9 90.0 L466.4 88.9 L466.9 87.6 L467.4 86.0 L467.9 84.3 L468.4 82.5 L468.9 80.5 L469.4 78.4 L469.9 76.3 L470.4 74.1 L470.9 71.9 L471.4 69.7 L471.9 67.6 L472.4 65.5 L472.9 63.5 L473.4 61.7 L473.9 60.0 L474.4 58.2 L474.9 56.2 L475.4 54.3 L475.9 52.4 L476.4 50.7 L476.9 49.3 L477.4 48.2 L477.9 47.4 L478.4 46.6 L478.9 45.9 L479.4 45.2 L479.9 44.6 L480.4 44.1 L480.9 43.7 L481.4 43.3 L481.9 43.1 L482.4 43.0 L482.9 43.0 L483.4 43.1 L483.9 43.3 L484.4 43.5 L484.9 43.8 L485.4 44.2 L485.9 44.6 L486.4 45.0 L486.9 45.5 L487.4 46.0 L487.9 46.5 L488.4 47.0 L488.9 47.5 L489.4 48.1 L489.9 48.6 L490.4 49.1 L490.9 49.5 L491.4 50.0 L491.9 50.4 L492.4 50.8 L492.9 51.1 L493.4 51.4 L493.9 51.6 L494.4 51.7 L494.9 51.7 L495.4 51.7 L495.9 51.5 L496.4 51.3 L496.9 50.9 L497.4 50.5 L497.9 49.9 L498.4 49.4 L498.9 48.7 L499.4 48.1 L499.9 47.4 L500.4 46.8 L500.9 46.1 L501.4 45.5 L501.9 44.9 L502.4 44.3 L502.9 43.8 L503.4 43.3 L503.9 42.7 L504.4 42.0 L504.9 41.4 L505.4 40.8 L505.9 40.1 L506.4 39.5 L506.9 39.0 L507.4 38.5 L507.9 38.1 L508.4 37.8 L508.9 37.6 L509.4 37.5 L509.9 37.5 L510.4 37.6 L510.9 37.8 L511.4 38.1 L511.9 38.5 L512.4 38.9 L512.8 39.2"/>
<path id="ml_c_a7" d="M36.4 103.0 L36.9 106.2 L37.4 109.2 L37.9 112.0 L38.4 114.5 L38.9 116.9 L39.4 119.0 L39.9 120.9 L40.4 122.4 L40.9 123.7 L41.4 124.6 L41.9 125.2 L42.4 125.5 L42.9 125.4 L43.4 125.0 L43.9 124.4 L44.4 123.6 L44.9 122.5 L45.4 121.4 L45.9 120.1 L46.4 118.8 L46.9 117.5 L47.4 116.2 L47.9 114.9 L48.4 113.7 L48.9 112.7 L49.4 111.6 L49.9 110.3 L50.4 109.0 L50.9 107.6 L51.4 106.3 L51.9 104.9 L52.4 103.6 L52.9 102.4 L53.4 101.2 L53.9 100.3 L54.4 99.5 L54.9 98.9 L55.4 98.6 L55.9 98.6 L56.4 99.6 L56.9 101.7 L57.4 104.6 L57.9 107.9 L58.4 111.3 L58.9 114.6 L59.4 117.5 L59.9 120.1 L60.4 122.9 L60.9 125.9 L61.4 128.6 L61.9 131.0 L62.4 132.7 L62.9 133.5 L63.4 133.1 L63.9 131.6 L64.4 129.2 L64.9 126.1 L65.4 122.4 L65.9 118.4 L66.4 114.3 L66.9 110.2 L67.4 106.3 L67.9 103.0 L68.4 100.2 L68.9 98.4 L69.4 97.5 L69.9 97.8 L70.4 99.0 L70.9 101.0 L71.4 103.6 L71.9 106.7 L72.4 110.0 L72.9 113.6 L73.4 117.0 L73.9 120.4 L74.4 123.4 L74.9 125.9 L75.4 127.9 L75.9 129.0 L76.4 129.2 L76.9 129.0 L77.4 128.4 L77.9 127.6 L78.4 126.7 L78.9 125.7 L79.4 124.6 L79.9 123.6 L80.4 122.8 L80.9 122.1 L81.4 121.6 L81.9 121.3 L82.4 121.0 L82.9 120.7 L83.4 120.4 L83.9 120.2 L84.4 120.0 L84.9 119.8 L85.4 119.6 L85.9 119.5 L86.4 119.3 L86.9 119.1 L87.4 118.9 L87.9 118.7 L88.4 118.4 L88.9 118.2 L89.4 117.9 L89.9 117.6 L90.4 117.2 L90.9 116.6 L91.4 116.0 L91.9 115.3 L92.4 114.5 L92.9 113.7 L93.4 112.8 L93.9 112.0 L94.4 111.1 L94.9 110.3 L95.4 109.6 L95.9 108.9 L96.4 108.4 L96.9 107.9 L97.4 107.6 L97.9 107.5 L98.4 107.6 L98.9 107.9 L99.4 108.5 L99.9 109.3 L100.4 110.1 L100.9 111.1 L101.4 112.0 L101.9 113.0 L102.4 113.8 L102.9 114.5 L103.4 115.1 L103.9 115.4 L104.4 115.5 L104.9 115.1 L105.4 114.3 L105.9 113.3 L106.4 112.0 L106.9 110.5 L107.4 109.1 L107.9 107.7 L108.4 106.4 L108.9 105.3 L109.4 104.6 L109.9 104.3 L110.4 104.5 L110.9 105.4 L111.4 106.8 L111.9 108.7 L112.4 110.8 L112.9 113.2 L113.4 115.6 L113.9 117.9 L114.4 120.0 L114.9 121.9 L115.4 123.2 L115.9 124.1 L116.4 124.2 L116.9 123.9 L117.4 123.2 L117.9 122.3 L118.4 121.1 L118.9 119.8 L119.4 118.5 L119.9 117.3 L120.4 116.1 L120.9 115.2 L121.4 114.6 L121.9 114.3 L122.4 114.4 L122.9 115.1 L123.4 116.3 L123.9 117.7 L124.4 119.3 L124.9 121.0 L125.4 122.7 L125.9 124.2 L126.4 125.5 L126.9 126.3 L127.4 126.7 L127.9 126.5 L128.4 125.7 L128.9 124.4 L129.4 122.7 L129.9 120.5 L130.4 118.2 L130.9 115.6 L131.4 112.9 L131.9 110.2 L132.4 107.6 L132.9 105.1 L133.4 102.9 L133.9 101.0 L134.4 99.5 L134.9 98.5 L135.4 98.0 L135.9 98.1 L136.4 98.7 L136.9 99.5 L137.4 100.6 L137.9 101.9 L138.4 103.2 L138.9 104.7 L139.4 106.1 L139.9 107.4 L140.4 108.6 L140.9 109.5 L141.4 110.2 L141.9 110.5 L142.4 110.3 L142.9 109.7 L143.4 108.8 L143.9 107.6 L144.4 106.2 L144.9 104.8 L145.4 103.4 L145.9 102.1 L146.4 101.1 L146.9 100.3 L147.4 100.0 L147.9 100.2 L148.4 100.8 L148.9 101.8 L149.4 103.2 L149.9 104.9 L150.4 106.7 L150.9 108.7 L151.4 110.8 L151.9 112.9 L152.4 115.0 L152.9 116.9 L153.4 118.7 L153.9 120.2 L154.4 121.3 L154.9 122.1 L155.4 122.5 L155.9 122.2 L156.4 121.0 L156.9 119.0 L157.4 116.6 L157.9 113.7 L158.4 110.7 L158.9 107.7 L159.4 104.9 L159.9 102.5 L160.4 100.6 L160.9 99.5 L161.4 99.3 L161.9 100.0 L162.4 101.3 L162.9 103.2 L163.4 105.5 L163.9 108.1 L164.4 110.7 L164.9 113.2 L165.4 115.5 L165.9 117.3 L166.4 118.6 L166.9 119.2 L167.4 119.0 L167.9 118.1 L168.4 116.6 L168.9 114.8 L169.4 112.7 L169.9 110.5 L170.4 108.3 L170.9 106.3 L171.4 104.7 L171.9 103.5 L172.4 103.0 L172.9 103.2 L173.4 103.8 L173.9 104.9 L174.4 106.2 L174.9 107.8 L175.4 109.5 L175.9 111.2 L176.4 112.9 L176.9 114.4 L177.4 115.8 L177.9 116.8 L178.4 117.4 L178.9 117.5 L179.4 117.1 L179.9 116.5 L180.4 115.6 L180.9 114.6 L181.4 113.6 L181.9 112.7 L182.4 112.1 L182.9 111.8 L183.4 111.8 L183.9 112.2 L184.4 112.8 L184.9 113.7 L185.4 114.7 L185.9 115.8 L186.4 117.0 L186.9 118.3 L187.4 119.6 L187.9 120.9 L188.4 122.1 L188.9 123.2 L189.4 124.2 L189.9 125.0 L190.4 125.6 L190.9 125.9 L191.4 126.0 L191.9 125.6 L192.4 124.9 L192.9 123.9 L193.4 122.7 L193.9 121.2 L194.4 119.7 L194.9 118.1 L195.4 116.6 L195.9 115.1 L196.4 113.8 L196.9 112.7 L197.4 111.9 L197.9 111.3 L198.4 110.7 L198.9 110.2 L199.4 110.0 L199.9 110.0 L200.4 110.2 L200.9 110.5 L201.4 110.7 L201.9 110.9 L202.4 111.0 L202.9 110.7 L203.4 109.5 L203.9 107.7 L204.4 105.6 L204.9 103.6 L205.4 101.9 L205.9 100.8 L206.4 100.5 L206.9 101.3 L207.4 102.9 L207.9 105.1 L208.4 108.0 L208.9 111.2 L209.4 114.8 L209.9 118.5 L210.4 122.2 L210.9 125.9 L211.4 129.3 L211.9 132.3 L212.4 134.8 L212.9 136.7 L213.4 137.8 L213.9 138.0 L214.4 137.5 L214.9 136.5 L215.4 135.0 L215.9 133.1 L216.4 130.9 L216.9 128.4 L217.4 125.8 L217.9 123.0 L218.4 120.2 L218.9 117.5 L219.4 114.8 L219.9 112.4 L220.4 110.2 L220.9 108.4 L221.4 106.9 L221.9 105.9 L222.4 105.5 L222.9 105.8 L223.4 106.9 L223.9 108.5 L224.4 110.2 L224.9 111.7 L225.4 112.8 L225.9 113.0 L226.4 112.3 L226.9 111.1 L227.4 109.5 L227.9 107.7 L228.4 105.8 L228.9 104.2 L229.4 103.1 L229.9 102.5 L230.4 102.7 L230.9 103.5 L231.4 104.7 L231.9 106.4 L232.4 108.3 L232.9 110.3 L233.4 112.4 L233.9 114.4 L234.4 116.3 L234.9 117.9 L235.4 119.1 L235.9 119.8 L236.4 120.0 L236.9 119.3 L237.4 118.0 L237.9 116.2 L238.4 114.0 L238.9 111.5 L239.4 108.9 L239.9 106.3 L240.4 103.8 L240.9 101.6 L241.4 99.8 L241.9 98.6 L242.4 98.0 L242.9 98.2 L243.4 99.0 L243.9 100.4 L244.4 102.2 L244.9 104.4 L245.4 106.8 L245.9 109.4 L246.4 112.1 L246.9 114.8 L247.4 117.4 L247.9 119.8 L248.4 122.0 L248.9 123.7 L249.4 125.1 L249.9 125.8 L250.4 126.0 L250.9 125.7 L251.4 125.0 L251.9 124.1 L252.4 123.0 L252.9 121.6 L253.4 120.2 L253.9 118.7 L254.4 117.2 L254.9 115.7 L255.4 114.3 L255.9 113.0 L256.4 111.9 L256.9 111.1 L257.4 110.6 L257.9 110.5 L258.4 110.4 L258.9 110.4 L259.4 110.3 L259.9 110.3 L260.4 110.2 L260.9 110.2 L261.4 110.1 L261.9 110.1 L262.4 110.1 L262.9 110.0 L263.4 110.0 L263.9 110.0 L264.4 110.0 L264.9 110.0 L265.4 110.0 L265.9 110.1 L266.4 110.2 L266.9 110.4 L267.4 110.6 L267.9 110.8 L268.4 111.1 L268.9 111.4 L269.4 111.7 L269.9 111.9 L270.4 112.3 L270.9 112.7 L271.4 113.3 L271.9 113.9 L272.4 114.6 L272.9 115.3 L273.4 116.0 L273.9 116.7 L274.4 117.3 L274.9 117.9 L275.4 118.4 L275.9 118.9 L276.4 119.1 L276.9 119.2 L277.4 119.1 L277.9 118.6 L278.4 117.9 L278.9 116.8 L279.4 115.6 L279.9 114.3 L280.4 112.9 L280.9 111.6 L281.4 110.2 L281.9 109.1 L282.4 108.1 L282.9 107.3 L283.4 106.8 L283.9 106.8 L284.4 107.1 L284.9 107.7 L285.4 108.6 L285.9 109.8 L286.4 111.2 L286.9 112.8 L287.4 114.5 L287.9 116.3 L288.4 118.1 L288.9 119.9 L289.4 121.7 L289.9 123.4 L290.4 124.9 L290.9 126.3 L291.4 127.5 L291.9 128.4 L292.4 129.0 L292.9 129.2 L293.4 129.0 L293.9 127.9 L294.4 126.2 L294.9 123.8 L295.4 121.1 L295.9 118.0 L296.4 114.7 L296.9 111.4 L297.4 108.0 L297.9 104.9 L298.4 102.0 L298.9 99.5 L299.4 97.5 L299.9 96.1 L300.4 95.5 L300.9 95.7 L301.4 96.5 L301.9 97.9 L302.4 99.7 L302.9 101.9 L303.4 104.4 L303.9 107.0 L304.4 109.8 L304.9 112.7 L305.4 115.5 L305.9 118.1 L306.4 120.6 L306.9 122.7 L307.4 124.5 L307.9 125.8 L308.4 126.6 L308.9 126.7 L309.4 126.2 L309.9 125.2 L310.4 123.6 L310.9 121.7 L311.4 119.5 L311.9 117.0 L312.4 114.3 L312.9 111.6 L313.4 108.9 L313.9 106.3 L314.4 103.8 L314.9 101.6 L315.4 99.7 L315.9 98.2 L316.4 97.2 L316.9 96.8 L317.4 96.9 L317.9 97.6 L318.4 98.8 L318.9 100.3 L319.4 102.1 L319.9 104.2 L320.4 106.5 L320.9 108.8 L321.4 111.1 L321.9 113.4 L322.4 115.5 L322.9 117.5 L323.4 119.1 L323.9 120.5 L324.4 121.3 L324.9 121.7 L325.4 121.5 L325.9 120.5 L326.4 119.0 L326.9 116.9 L327.4 114.5 L327.9 111.8 L328.4 108.9 L328.9 106.1 L329.4 103.3 L329.9 100.8 L330.4 98.6 L330.9 96.8 L331.4 95.6 L331.9 95.0 L332.4 95.3 L332.9 96.5 L333.4 98.4 L333.9 100.9 L334.4 103.9 L334.9 107.2 L335.4 110.8 L335.9 114.5 L336.4 118.1 L336.9 121.6 L337.4 124.7 L337.9 127.4 L338.4 129.6 L338.9 131.1 L339.4 131.7 L339.9 131.5 L340.4 130.3 L340.9 128.5 L341.4 126.0 L341.9 123.1 L342.4 119.8 L342.9 116.4 L343.4 112.8 L343.9 109.3 L344.4 105.9 L344.9 102.8 L345.4 100.2 L345.9 98.1 L346.4 96.6 L346.9 96.0 L347.4 96.2 L347.9 96.9 L348.4 98.1 L348.9 99.7 L349.4 101.6 L349.9 103.7 L350.4 106.0 L350.9 108.4 L351.4 110.8 L351.9 113.1 L352.4 115.4 L352.9 117.4 L353.4 119.1 L353.9 120.4 L354.4 121.3 L354.9 121.7 L355.4 121.7 L355.9 121.6 L356.4 121.3 L356.9 121.0 L357.4 120.6 L357.9 120.1 L358.4 119.7 L358.9 119.1 L359.4 118.6 L359.9 118.1 L360.4 117.5 L360.9 117.1 L361.4 116.6 L361.9 116.2 L362.4 115.9 L362.9 115.7 L363.4 115.5 L363.9 115.5 L364.4 115.7 L364.9 116.0 L365.4 116.5 L365.9 117.0 L366.4 117.5 L366.9 118.1 L367.4 118.6 L367.9 119.0 L368.4 119.2 L368.9 119.2 L369.4 119.1 L369.9 118.7 L370.4 118.2 L370.9 117.6 L371.4 116.8 L371.9 115.9 L372.4 114.9 L372.9 113.9 L373.4 112.8 L373.9 111.6 L374.4 110.5 L374.9 109.4 L375.4 108.3 L375.9 107.2 L376.4 106.3 L376.9 105.4 L377.4 104.6 L377.9 104.0 L378.4 103.5 L378.9 103.1 L379.4 103.0 L379.9 103.2 L380.4 103.8 L380.9 104.9 L381.4 106.4 L381.9 108.1 L382.4 110.1 L382.9 112.2 L383.4 114.4 L383.9 116.7 L384.4 118.8 L384.9 120.9 L385.4 122.7 L385.9 124.3 L386.4 125.5 L386.9 126.4 L387.4 126.7 L387.9 126.6 L388.4 126.1 L388.9 125.2 L389.4 124.0 L389.9 122.6 L390.4 121.0 L390.9 119.2 L391.4 117.4 L391.9 115.5 L392.4 113.7 L392.9 112.0 L393.4 110.3 L393.9 108.9 L394.4 107.8 L394.9 106.9 L395.4 106.2 L395.9 105.6 L396.4 105.0 L396.9 104.4 L397.4 103.8 L397.9 103.3 L398.4 102.8 L398.9 102.3 L399.4 101.9 L399.9 101.5 L400.4 101.2 L400.9 100.9 L401.4 100.7 L401.9 100.6 L402.4 100.5 L402.9 100.7 L403.4 101.4 L403.9 102.7 L404.4 104.4 L404.9 106.5 L405.4 108.8 L405.9 111.5 L406.4 114.3 L406.9 117.2 L407.4 120.1 L407.9 123.1 L408.4 125.9 L408.9 128.6 L409.4 131.1 L409.9 133.3 L410.4 135.2 L410.9 136.6 L411.4 137.6 L411.9 138.0 L412.4 137.8 L412.9 136.9 L413.4 135.4 L413.9 133.5 L414.4 131.2 L414.9 128.7 L415.4 125.9 L415.9 123.1 L416.4 120.3 L416.9 117.7 L417.4 115.2 L417.9 113.1 L418.4 111.4 L418.9 110.2 L419.4 109.2 L419.9 108.4 L420.4 107.7 L420.9 107.0 L421.4 106.3 L421.9 105.7 L422.4 105.1 L422.9 104.4 L423.4 103.6 L423.9 102.7 L424.4 101.6 L424.9 100.2 L425.4 98.7 L425.9 97.2 L426.4 95.8 L426.9 94.7 L427.4 93.9 L427.9 93.5 L428.4 93.9 L428.9 95.7 L429.4 98.5 L429.9 102.3 L430.4 106.8 L430.9 111.9 L431.4 117.3 L431.9 122.9 L432.4 128.5 L432.9 133.9 L433.4 138.9 L433.9 143.4 L434.4 147.1 L434.9 149.8 L435.4 151.4 L435.9 151.7 L436.4 150.4 L436.9 147.6 L437.4 143.7 L437.9 138.9 L438.4 133.4 L438.9 127.6 L439.4 121.6 L439.9 115.8 L440.4 110.4 L440.9 105.6 L441.4 101.8 L441.9 99.2 L442.4 98.0 L442.9 98.4 L443.4 99.9 L443.9 102.4 L444.4 105.7 L444.9 109.6 L445.4 114.1 L445.9 118.9 L446.4 123.9 L446.9 128.9 L447.4 133.8 L447.9 138.4 L448.4 142.6 L448.9 146.2 L449.4 149.0 L449.9 150.9 L450.4 151.7 L450.9 151.5 L451.4 150.6 L451.9 149.0 L452.4 146.9 L452.9 144.2 L453.4 141.2 L453.9 137.9 L454.4 134.3 L454.9 130.5 L455.4 126.7 L455.9 122.8 L456.4 119.0 L456.9 115.3 L457.4 111.8 L457.9 108.7 L458.4 105.9 L458.9 103.6 L459.4 101.7 L459.9 100.5 L460.4 100.0 L460.9 100.1 L461.4 100.6 L461.9 101.3 L462.4 102.2 L462.9 103.2 L463.4 104.2 L463.9 105.1 L464.4 105.9 L464.9 106.5 L465.4 106.7 L465.9 106.7 L466.4 106.3 L466.9 105.8 L467.4 105.1 L467.9 104.4 L468.4 103.7 L468.9 103.0 L469.4 102.4 L469.9 101.9 L470.4 101.8 L470.9 102.4 L471.4 105.0 L471.9 109.2 L472.4 114.5 L472.9 120.6 L473.4 127.1 L473.9 133.5 L474.4 139.6 L474.9 144.8 L475.4 148.8 L475.9 151.2 L476.4 151.7 L476.9 151.4 L477.4 150.6 L477.9 149.5 L478.4 148.1 L478.9 146.4 L479.4 144.4 L479.9 142.2 L480.4 139.8 L480.9 137.3 L481.4 134.7 L481.9 131.9 L482.4 129.2 L482.9 126.4 L483.4 123.7 L483.9 121.0 L484.4 118.4 L484.9 116.0 L485.4 113.7 L485.9 111.6 L486.4 109.8 L486.9 108.2 L487.4 107.0 L487.9 106.1 L488.4 105.6 L488.9 105.5 L489.4 106.3 L489.9 107.8 L490.4 109.8 L490.9 112.2 L491.4 114.8 L491.9 117.2 L492.4 119.5 L492.9 121.2 L493.4 122.3 L493.9 122.5 L494.4 121.9 L494.9 120.6 L495.4 118.8 L495.9 116.6 L496.4 114.0 L496.9 111.1 L497.4 108.1 L497.9 104.9 L498.4 101.9 L498.9 98.9 L499.4 96.2 L499.9 93.8 L500.4 91.8 L500.9 90.3 L501.4 89.4 L501.9 89.3 L502.4 90.4 L502.9 92.7 L503.4 96.0 L503.9 100.1 L504.4 104.8 L504.9 110.0 L505.4 115.5 L505.9 121.1 L506.4 126.5 L506.9 131.7 L507.4 136.4 L507.9 140.4 L508.4 143.6 L508.9 145.8 L509.4 146.7 L509.9 146.7 L510.4 146.4 L510.9 145.9 L511.4 145.1 L511.9 143.9 L512.4 142.2 L512.8 140.5"/>
</defs>
<g>
<text x="274.1" y="9.5" text-anchor="middle" font-size="12.0" font-family="'Liberation Serif', serif" stroke="#000" stroke-width="0.18" fill="#000">(a) DNN-S (<tspan font-family="'DejaVu Sans', 'Liberation Sans', sans-serif" font-style="italic" font-size="10.2" stroke="#000" stroke-width="0.25">p</tspan><tspan font-family="'DejaVu Sans', 'Liberation Sans', sans-serif" font-size="10.2" stroke="#000" stroke-width="0.25"> = 1</tspan><tspan dx="1.1">)</tspan></text>
<rect x="36.4" y="13.4" width="238.2" height="60.4" fill="#d3d3d3"/>
<g clip-path="url(#c01)" fill="none" stroke-width="1.38" stroke-linejoin="round" transform="translate(0 0.0)">
<g transform="translate(0 0.0)">
<use href="#true_a1" stroke="#000"/>
<use href="#gp_a1" stroke="#1010e4" stroke-dasharray="6.40 1.60 1.00 1.60"/>
<use href="#ml_a_a1" stroke="#cf1030" stroke-dasharray="3.70 1.60"/>
</g></g>
<rect x="36.4" y="13.4" width="476.4" height="60.4" fill="none" stroke="#5e5e5e" stroke-width="1.25"/>
<line x1="33.6" y1="20.3" x2="36.4" y2="20.3" stroke="#5e5e5e" stroke-width="1.25"/>
<text x="31.8" y="23.6" text-anchor="end" font-size="10.0" font-family="'Liberation Serif', serif" stroke="#000" stroke-width="0.18" fill="#000">2.5</text>
<line x1="33.6" y1="43.7" x2="36.4" y2="43.7" stroke="#5e5e5e" stroke-width="1.25"/>
<text x="31.8" y="47.0" text-anchor="end" font-size="10.0" font-family="'Liberation Serif', serif" stroke="#000" stroke-width="0.18" fill="#000">0.0</text>
<line x1="33.6" y1="67.1" x2="36.4" y2="67.1" stroke="#5e5e5e" stroke-width="1.25"/>
<text x="31.8" y="70.4" text-anchor="end" font-size="10.0" font-family="'Liberation Serif', serif" stroke="#000" stroke-width="0.18" fill="#000">−2.5</text>
<text transform="translate(6.2 44.0) rotate(-90)" text-anchor="middle" font-size="11.2" font-family="'DejaVu Sans', 'Liberation Sans', sans-serif" font-style="italic" fill="#000">a<tspan font-style="normal" font-size="7.0" dy="1.6">1</tspan></text>
<rect x="36.4" y="83.5" width="238.2" height="59.8" fill="#d3d3d3"/>
<g clip-path="url(#c07)" fill="none" stroke-width="1.38" stroke-linejoin="round" transform="translate(0 0.0)">
<g transform="translate(0 0.0)">
<use href="#true_a7" stroke="#000"/>
<use href="#gp_a7" stroke="#1010e4" stroke-dasharray="6.40 1.60 1.00 1.60"/>
<use href="#gp_a7w" stroke="#1010e4" stroke-dasharray="6.40 1.60 1.00 1.60"/>
<use href="#ml_a_a7" stroke="#cf1030" stroke-dasharray="3.70 1.60"/>
</g></g>
<rect x="36.4" y="83.5" width="476.4" height="59.8" fill="none" stroke="#5e5e5e" stroke-width="1.25"/>
<line x1="33.6" y1="86.4" x2="36.4" y2="86.4" stroke="#5e5e5e" stroke-width="1.25"/>
<text x="31.8" y="89.7" text-anchor="end" font-size="10.0" font-family="'Liberation Serif', serif" stroke="#000" stroke-width="0.18" fill="#000">2</text>
<line x1="33.6" y1="113.4" x2="36.4" y2="113.4" stroke="#5e5e5e" stroke-width="1.25"/>
<text x="31.8" y="116.7" text-anchor="end" font-size="10.0" font-family="'Liberation Serif', serif" stroke="#000" stroke-width="0.18" fill="#000">0</text>
<line x1="33.6" y1="140.4" x2="36.4" y2="140.4" stroke="#5e5e5e" stroke-width="1.25"/>
<text x="31.8" y="143.7" text-anchor="end" font-size="10.0" font-family="'Liberation Serif', serif" stroke="#000" stroke-width="0.18" fill="#000">−2</text>
<text transform="translate(6.2 113.8) rotate(-90)" text-anchor="middle" font-size="11.2" font-family="'DejaVu Sans', 'Liberation Sans', sans-serif" font-style="italic" fill="#000">a<tspan font-style="normal" font-size="7.0" dy="1.6">7</tspan></text>
<line x1="36.4" y1="143.3" x2="36.4" y2="146.1" stroke="#5e5e5e" stroke-width="1.25"/>
<text x="36.4" y="155.6" text-anchor="middle" font-size="10.0" font-family="'Liberation Serif', serif" stroke="#000" stroke-width="0.18" fill="#000">0</text>
<line x1="131.7" y1="143.3" x2="131.7" y2="146.1" stroke="#5e5e5e" stroke-width="1.25"/>
<text x="131.7" y="155.6" text-anchor="middle" font-size="10.0" font-family="'Liberation Serif', serif" stroke="#000" stroke-width="0.18" fill="#000">20</text>
<line x1="227.0" y1="143.3" x2="227.0" y2="146.1" stroke="#5e5e5e" stroke-width="1.25"/>
<text x="227.0" y="155.6" text-anchor="middle" font-size="10.0" font-family="'Liberation Serif', serif" stroke="#000" stroke-width="0.18" fill="#000">40</text>
<line x1="322.2" y1="143.3" x2="322.2" y2="146.1" stroke="#5e5e5e" stroke-width="1.25"/>
<text x="322.2" y="155.6" text-anchor="middle" font-size="10.0" font-family="'Liberation Serif', serif" stroke="#000" stroke-width="0.18" fill="#000">60</text>
<line x1="417.5" y1="143.3" x2="417.5" y2="146.1" stroke="#5e5e5e" stroke-width="1.25"/>
<text x="417.5" y="155.6" text-anchor="middle" font-size="10.0" font-family="'Liberation Serif', serif" stroke="#000" stroke-width="0.18" fill="#000">80</text>
<line x1="512.8" y1="143.3" x2="512.8" y2="146.1" stroke="#5e5e5e" stroke-width="1.25"/>
<text x="512.8" y="155.6" text-anchor="middle" font-size="10.0" font-family="'Liberation Serif', serif" stroke="#000" stroke-width="0.18" fill="#000">100</text>
<text x="274.6" y="167.9" text-anchor="middle" font-size="10.0" font-family="'Liberation Serif', serif" stroke="#000" stroke-width="0.18" fill="#000">Time</text>
</g>
<g>
<text x="274.1" y="191.9" text-anchor="middle" font-size="12.0" font-family="'Liberation Serif', serif" stroke="#000" stroke-width="0.18" fill="#000">(b) DNN-R (<tspan font-family="'DejaVu Sans', 'Liberation Sans', sans-serif" font-style="italic" font-size="10.2" stroke="#000" stroke-width="0.25">p</tspan><tspan font-family="'DejaVu Sans', 'Liberation Sans', sans-serif" font-size="10.2" stroke="#000" stroke-width="0.25"> = 1</tspan><tspan dx="1.1">)</tspan></text>
<rect x="36.4" y="195.8" width="238.2" height="60.4" fill="#d3d3d3"/>
<g clip-path="url(#c11)" fill="none" stroke-width="1.38" stroke-linejoin="round" transform="translate(0 0.0)">
<g transform="translate(0 182.4)">
<use href="#true_a1" stroke="#000"/>
<use href="#gp_a1" stroke="#1010e4" stroke-dasharray="6.40 1.60 1.00 1.60"/>
<use href="#ml_b_a1" stroke="#cf1030" stroke-dasharray="3.70 1.60"/>
</g></g>
<rect x="36.4" y="195.8" width="476.4" height="60.4" fill="none" stroke="#5e5e5e" stroke-width="1.25"/>
<line x1="33.6" y1="202.7" x2="36.4" y2="202.7" stroke="#5e5e5e" stroke-width="1.25"/>
<text x="31.8" y="206.0" text-anchor="end" font-size="10.0" font-family="'Liberation Serif', serif" stroke="#000" stroke-width="0.18" fill="#000">2.5</text>
<line x1="33.6" y1="226.1" x2="36.4" y2="226.1" stroke="#5e5e5e" stroke-width="1.25"/>
<text x="31.8" y="229.4" text-anchor="end" font-size="10.0" font-family="'Liberation Serif', serif" stroke="#000" stroke-width="0.18" fill="#000">0.0</text>
<line x1="33.6" y1="249.5" x2="36.4" y2="249.5" stroke="#5e5e5e" stroke-width="1.25"/>
<text x="31.8" y="252.8" text-anchor="end" font-size="10.0" font-family="'Liberation Serif', serif" stroke="#000" stroke-width="0.18" fill="#000">−2.5</text>
<text transform="translate(6.2 226.4) rotate(-90)" text-anchor="middle" font-size="11.2" font-family="'DejaVu Sans', 'Liberation Sans', sans-serif" font-style="italic" fill="#000">a<tspan font-style="normal" font-size="7.0" dy="1.6">1</tspan></text>
<rect x="36.4" y="265.9" width="238.2" height="59.8" fill="#d3d3d3"/>
<g clip-path="url(#c17)" fill="none" stroke-width="1.38" stroke-linejoin="round" transform="translate(0 0.0)">
<g transform="translate(0 182.4)">
<use href="#true_a7" stroke="#000"/>
<use href="#gp_a7" stroke="#1010e4" stroke-dasharray="6.40 1.60 1.00 1.60"/>
<use href="#gp_a7w" stroke="#1010e4" stroke-dasharray="6.40 1.60 1.00 1.60"/>
<use href="#ml_b_a7" stroke="#cf1030" stroke-dasharray="3.70 1.60"/>
</g></g>
<rect x="36.4" y="265.9" width="476.4" height="59.8" fill="none" stroke="#5e5e5e" stroke-width="1.25"/>
<line x1="33.6" y1="268.8" x2="36.4" y2="268.8" stroke="#5e5e5e" stroke-width="1.25"/>
<text x="31.8" y="272.1" text-anchor="end" font-size="10.0" font-family="'Liberation Serif', serif" stroke="#000" stroke-width="0.18" fill="#000">2</text>
<line x1="33.6" y1="295.8" x2="36.4" y2="295.8" stroke="#5e5e5e" stroke-width="1.25"/>
<text x="31.8" y="299.1" text-anchor="end" font-size="10.0" font-family="'Liberation Serif', serif" stroke="#000" stroke-width="0.18" fill="#000">0</text>
<line x1="33.6" y1="322.8" x2="36.4" y2="322.8" stroke="#5e5e5e" stroke-width="1.25"/>
<text x="31.8" y="326.1" text-anchor="end" font-size="10.0" font-family="'Liberation Serif', serif" stroke="#000" stroke-width="0.18" fill="#000">−2</text>
<text transform="translate(6.2 296.2) rotate(-90)" text-anchor="middle" font-size="11.2" font-family="'DejaVu Sans', 'Liberation Sans', sans-serif" font-style="italic" fill="#000">a<tspan font-style="normal" font-size="7.0" dy="1.6">7</tspan></text>
<line x1="36.4" y1="325.7" x2="36.4" y2="328.5" stroke="#5e5e5e" stroke-width="1.25"/>
<text x="36.4" y="338.0" text-anchor="middle" font-size="10.0" font-family="'Liberation Serif', serif" stroke="#000" stroke-width="0.18" fill="#000">0</text>
<line x1="131.7" y1="325.7" x2="131.7" y2="328.5" stroke="#5e5e5e" stroke-width="1.25"/>
<text x="131.7" y="338.0" text-anchor="middle" font-size="10.0" font-family="'Liberation Serif', serif" stroke="#000" stroke-width="0.18" fill="#000">20</text>
<line x1="227.0" y1="325.7" x2="227.0" y2="328.5" stroke="#5e5e5e" stroke-width="1.25"/>
<text x="227.0" y="338.0" text-anchor="middle" font-size="10.0" font-family="'Liberation Serif', serif" stroke="#000" stroke-width="0.18" fill="#000">40</text>
<line x1="322.2" y1="325.7" x2="322.2" y2="328.5" stroke="#5e5e5e" stroke-width="1.25"/>
<text x="322.2" y="338.0" text-anchor="middle" font-size="10.0" font-family="'Liberation Serif', serif" stroke="#000" stroke-width="0.18" fill="#000">60</text>
<line x1="417.5" y1="325.7" x2="417.5" y2="328.5" stroke="#5e5e5e" stroke-width="1.25"/>
<text x="417.5" y="338.0" text-anchor="middle" font-size="10.0" font-family="'Liberation Serif', serif" stroke="#000" stroke-width="0.18" fill="#000">80</text>
<line x1="512.8" y1="325.7" x2="512.8" y2="328.5" stroke="#5e5e5e" stroke-width="1.25"/>
<text x="512.8" y="338.0" text-anchor="middle" font-size="10.0" font-family="'Liberation Serif', serif" stroke="#000" stroke-width="0.18" fill="#000">100</text>
<text x="274.6" y="350.3" text-anchor="middle" font-size="10.0" font-family="'Liberation Serif', serif" stroke="#000" stroke-width="0.18" fill="#000">Time</text>
</g>
<g>
<text x="274.1" y="374.3" text-anchor="middle" font-size="12.0" font-family="'Liberation Serif', serif" stroke="#000" stroke-width="0.18" fill="#000">(c) DNN-B (<tspan font-family="'DejaVu Sans', 'Liberation Sans', sans-serif" font-style="italic" font-size="10.2" stroke="#000" stroke-width="0.25">p</tspan><tspan font-family="'DejaVu Sans', 'Liberation Sans', sans-serif" font-size="10.2" stroke="#000" stroke-width="0.25"> = 1</tspan><tspan dx="1.1">)</tspan></text>
<rect x="36.4" y="378.2" width="238.2" height="60.4" fill="#d3d3d3"/>
<g clip-path="url(#c21)" fill="none" stroke-width="1.38" stroke-linejoin="round" transform="translate(0 0.0)">
<g transform="translate(0 364.8)">
<use href="#true_a1" stroke="#000"/>
<use href="#gp_a1" stroke="#1010e4" stroke-dasharray="6.40 1.60 1.00 1.60"/>
<use href="#ml_c_a1" stroke="#cf1030" stroke-dasharray="3.70 1.60"/>
</g></g>
<rect x="36.4" y="378.2" width="476.4" height="60.4" fill="none" stroke="#5e5e5e" stroke-width="1.25"/>
<line x1="33.6" y1="385.1" x2="36.4" y2="385.1" stroke="#5e5e5e" stroke-width="1.25"/>
<text x="31.8" y="388.4" text-anchor="end" font-size="10.0" font-family="'Liberation Serif', serif" stroke="#000" stroke-width="0.18" fill="#000">2.5</text>
<line x1="33.6" y1="408.5" x2="36.4" y2="408.5" stroke="#5e5e5e" stroke-width="1.25"/>
<text x="31.8" y="411.8" text-anchor="end" font-size="10.0" font-family="'Liberation Serif', serif" stroke="#000" stroke-width="0.18" fill="#000">0.0</text>
<line x1="33.6" y1="431.9" x2="36.4" y2="431.9" stroke="#5e5e5e" stroke-width="1.25"/>
<text x="31.8" y="435.2" text-anchor="end" font-size="10.0" font-family="'Liberation Serif', serif" stroke="#000" stroke-width="0.18" fill="#000">−2.5</text>
<text transform="translate(6.2 408.8) rotate(-90)" text-anchor="middle" font-size="11.2" font-family="'DejaVu Sans', 'Liberation Sans', sans-serif" font-style="italic" fill="#000">a<tspan font-style="normal" font-size="7.0" dy="1.6">1</tspan></text>
<rect x="36.4" y="448.3" width="238.2" height="59.8" fill="#d3d3d3"/>
<g clip-path="url(#c27)" fill="none" stroke-width="1.38" stroke-linejoin="round" transform="translate(0 0.0)">
<g transform="translate(0 364.8)">
<use href="#true_a7" stroke="#000"/>
<use href="#gp_a7" stroke="#1010e4" stroke-dasharray="6.40 1.60 1.00 1.60"/>
<use href="#gp_a7w" stroke="#1010e4" stroke-dasharray="6.40 1.60 1.00 1.60"/>
<use href="#ml_c_a7" stroke="#cf1030" stroke-dasharray="3.70 1.60"/>
</g></g>
<rect x="36.4" y="448.3" width="476.4" height="59.8" fill="none" stroke="#5e5e5e" stroke-width="1.25"/>
<line x1="33.6" y1="451.2" x2="36.4" y2="451.2" stroke="#5e5e5e" stroke-width="1.25"/>
<text x="31.8" y="454.5" text-anchor="end" font-size="10.0" font-family="'Liberation Serif', serif" stroke="#000" stroke-width="0.18" fill="#000">2</text>
<line x1="33.6" y1="478.2" x2="36.4" y2="478.2" stroke="#5e5e5e" stroke-width="1.25"/>
<text x="31.8" y="481.5" text-anchor="end" font-size="10.0" font-family="'Liberation Serif', serif" stroke="#000" stroke-width="0.18" fill="#000">0</text>
<line x1="33.6" y1="505.2" x2="36.4" y2="505.2" stroke="#5e5e5e" stroke-width="1.25"/>
<text x="31.8" y="508.5" text-anchor="end" font-size="10.0" font-family="'Liberation Serif', serif" stroke="#000" stroke-width="0.18" fill="#000">−2</text>
<text transform="translate(6.2 478.6) rotate(-90)" text-anchor="middle" font-size="11.2" font-family="'DejaVu Sans', 'Liberation Sans', sans-serif" font-style="italic" fill="#000">a<tspan font-style="normal" font-size="7.0" dy="1.6">7</tspan></text>
<line x1="36.4" y1="508.1" x2="36.4" y2="510.9" stroke="#5e5e5e" stroke-width="1.25"/>
<text x="36.4" y="520.4" text-anchor="middle" font-size="10.0" font-family="'Liberation Serif', serif" stroke="#000" stroke-width="0.18" fill="#000">0</text>
<line x1="131.7" y1="508.1" x2="131.7" y2="510.9" stroke="#5e5e5e" stroke-width="1.25"/>
<text x="131.7" y="520.4" text-anchor="middle" font-size="10.0" font-family="'Liberation Serif', serif" stroke="#000" stroke-width="0.18" fill="#000">20</text>
<line x1="227.0" y1="508.1" x2="227.0" y2="510.9" stroke="#5e5e5e" stroke-width="1.25"/>
<text x="227.0" y="520.4" text-anchor="middle" font-size="10.0" font-family="'Liberation Serif', serif" stroke="#000" stroke-width="0.18" fill="#000">40</text>
<line x1="322.2" y1="508.1" x2="322.2" y2="510.9" stroke="#5e5e5e" stroke-width="1.25"/>
<text x="322.2" y="520.4" text-anchor="middle" font-size="10.0" font-family="'Liberation Serif', serif" stroke="#000" stroke-width="0.18" fill="#000">60</text>
<line x1="417.5" y1="508.1" x2="417.5" y2="510.9" stroke="#5e5e5e" stroke-width="1.25"/>
<text x="417.5" y="520.4" text-anchor="middle" font-size="10.0" font-family="'Liberation Serif', serif" stroke="#000" stroke-width="0.18" fill="#000">80</text>
<line x1="512.8" y1="508.1" x2="512.8" y2="510.9" stroke="#5e5e5e" stroke-width="1.25"/>
<text x="512.8" y="520.4" text-anchor="middle" font-size="10.0" font-family="'Liberation Serif', serif" stroke="#000" stroke-width="0.18" fill="#000">100</text>
<text x="274.6" y="532.7" text-anchor="middle" font-size="10.0" font-family="'Liberation Serif', serif" stroke="#000" stroke-width="0.18" fill="#000">Time</text>
</g>
<g>
<rect x="184.2" y="537.6" width="164.6" height="14.8" rx="1.6" fill="#fff" stroke="#d0d0d0" stroke-width="0.9"/>
<line x1="187.6" y1="544.9" x2="206.8" y2="544.9" stroke="#000" stroke-width="1.20"/>
<text x="214.4" y="547.9" font-size="8.9" font-family="'Liberation Serif', serif" stroke="#000" stroke-width="0.18" fill="#000">True</text>
<line x1="249.4" y1="544.9" x2="268.6" y2="544.9" stroke="#1010e4" stroke-width="1.20" stroke-dasharray="6.40 1.60 1.00 1.60"/>
<text x="275.8" y="547.9" font-size="8.9" font-family="'Liberation Serif', serif" stroke="#000" stroke-width="0.18" fill="#000">GP</text>
<line x1="306.8" y1="544.9" x2="326.0" y2="544.9" stroke="#cf1030" stroke-width="1.20" stroke-dasharray="3.70 1.60"/>
<text x="332.6" y="547.9" font-size="8.9" font-family="'Liberation Serif', serif" stroke="#000" stroke-width="0.18" fill="#000">ML</text>
</g>
</svg>
</body></html>
